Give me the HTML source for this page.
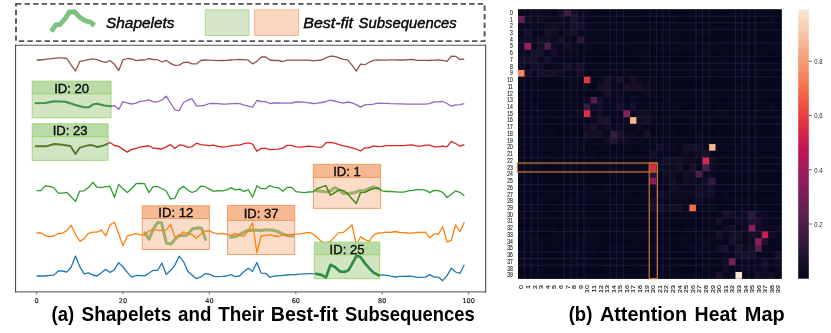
<!DOCTYPE html>
<html><head><meta charset="utf-8"><title>Shapelets and Attention Heat Map</title>
<style>
html,body{margin:0;padding:0;background:#fff;}
body{width:831px;height:333px;overflow:hidden;}
svg{display:block;}
.leg{font-family:"Liberation Sans",sans-serif;font-style:italic;font-size:15.4px;fill:#0a0a0a;stroke:#0a0a0a;stroke-width:0.3px;filter:drop-shadow(0.5px 0.6px 0.5px rgba(0,0,0,0.4));}
.id{font-family:"Liberation Sans",sans-serif;font-size:13.1px;fill:#111;stroke:#111;stroke-width:0.28px;filter:drop-shadow(0.4px 0.5px 0.4px rgba(0,0,0,0.35));}
.tk{font-family:"DejaVu Sans",sans-serif;font-size:6.5px;fill:#000;stroke:#000;stroke-width:0.12px;}
.ttl{font-family:"Liberation Sans",sans-serif;font-weight:bold;font-size:19.3px;fill:#000;}
.hy{font-family:"Liberation Sans",sans-serif;font-size:7.2px;fill:#1e1e1e;stroke:#1e1e1e;stroke-width:0.15px;}
.hx{font-family:"Liberation Sans",sans-serif;font-size:7px;fill:#1e1e1e;stroke:#1e1e1e;stroke-width:0.15px;}
.cbt{font-family:"Liberation Sans",sans-serif;font-size:7.7px;fill:#262626;}
</style></head><body>
<svg width="831" height="333" viewBox="0 0 831 333">
<rect x="0" y="0" width="831" height="333" fill="#ffffff"/>
<rect x="16" y="3.9" width="468.6" height="37.2" fill="none" stroke="#555555" stroke-width="1.9" stroke-dasharray="5.4 3.15"/>
<polyline points="51.3,31.5 55.8,24.8 59.6,24.8 65.6,18.0 69.3,12.0 74.6,11.7 79.8,17.3 85.8,21.0 90.4,22.2 94.4,25.5" fill="none" stroke="#7fc27e" stroke-width="4.9" stroke-linejoin="round" stroke-linecap="butt"/>
<text y="28.4" class="leg"><tspan x="106" textLength="68.6" lengthAdjust="spacingAndGlyphs">Shapelets</tspan></text>
<rect x="205.2" y="9.8" width="43.8" height="25.6" fill="#d5e6c8" stroke="#a9d88a" stroke-width="0.9"/>
<rect x="254.6" y="9.8" width="44" height="25.6" fill="#fad7c0" stroke="#f4b183" stroke-width="0.9"/>
<text y="28.4" class="leg"><tspan x="303.2" textLength="49.9" lengthAdjust="spacingAndGlyphs">Best-fit</tspan> <tspan x="358.6" textLength="98.2" lengthAdjust="spacingAndGlyphs">Subsequences</tspan></text>
<line x1="15.2" y1="45.3" x2="486.1" y2="45.3" stroke="#505050" stroke-width="1.1"/>
<line x1="15.2" y1="291.9" x2="486.1" y2="291.9" stroke="#6e6e6e" stroke-width="1.1"/>
<line x1="15.6" y1="44.8" x2="15.6" y2="292.4" stroke="#1c1c1c" stroke-width="0.85"/>
<line x1="485.7" y1="44.8" x2="485.7" y2="292.4" stroke="#1c1c1c" stroke-width="0.85"/>
<line x1="36.6" y1="292" x2="36.6" y2="294.3" stroke="#555" stroke-width="0.8"/>
<text x="36.6" y="303.1" class="tk" text-anchor="middle">0</text>
<line x1="123.0" y1="292" x2="123.0" y2="294.3" stroke="#555" stroke-width="0.8"/>
<text x="123.0" y="303.1" class="tk" text-anchor="middle">20</text>
<line x1="209.4" y1="292" x2="209.4" y2="294.3" stroke="#555" stroke-width="0.8"/>
<text x="209.4" y="303.1" class="tk" text-anchor="middle">40</text>
<line x1="295.8" y1="292" x2="295.8" y2="294.3" stroke="#555" stroke-width="0.8"/>
<text x="295.8" y="303.1" class="tk" text-anchor="middle">60</text>
<line x1="382.2" y1="292" x2="382.2" y2="294.3" stroke="#555" stroke-width="0.8"/>
<text x="382.2" y="303.1" class="tk" text-anchor="middle">80</text>
<line x1="468.6" y1="292" x2="468.6" y2="294.3" stroke="#555" stroke-width="0.8"/>
<text x="468.6" y="303.1" class="tk" text-anchor="middle">100</text>
<polyline points="36.6,60.0 40.9,60.0 45.2,59.3 53.9,58.3 58.2,57.8 62.5,57.8 66.8,58.5 71.2,65.1 75.5,71.0 79.8,61.4 84.1,60.7 88.4,59.7 92.8,58.8 97.1,59.7 101.4,61.4 105.7,62.4 110.0,60.5 114.4,64.2 118.7,70.6 123.0,59.8 127.3,58.5 131.6,58.8 136.0,60.7 140.3,60.0 144.6,60.0 148.9,58.7 153.2,59.5 157.6,59.7 161.9,62.0 166.2,60.3 170.5,63.4 174.8,65.4 179.2,65.1 183.5,62.5 187.8,62.2 192.1,63.9 196.4,63.9 200.8,60.5 205.1,60.0 209.4,60.2 213.7,60.3 218.0,60.7 222.4,60.5 226.7,60.3 231.0,60.0 235.3,59.7 239.6,59.3 244.0,59.7 248.3,60.2 252.6,63.9 256.9,61.4 261.2,57.0 265.6,57.0 269.9,60.0 274.2,60.5 278.5,60.5 282.8,61.5 287.2,60.2 291.5,60.2 295.8,60.2 300.1,60.2 304.4,60.2 308.8,60.2 313.1,60.8 317.4,60.3 321.7,60.0 326.0,57.8 330.4,56.1 334.7,56.3 339.0,57.8 343.3,59.3 347.6,59.8 352.0,65.1 356.3,71.1 360.6,64.2 364.9,64.7 369.2,62.2 373.6,60.3 377.9,59.8 382.2,60.1 386.5,60.2 390.8,59.9 395.2,59.9 399.5,60.0 403.8,60.0 408.1,59.6 412.4,59.3 416.8,60.3 421.1,60.3 425.4,60.3 429.7,60.5 434.0,60.2 438.4,60.0 442.7,60.3 447.0,61.4 451.3,56.1 455.6,56.3 460.0,59.5 464.3,59.2" fill="none" stroke="#8c564b" stroke-width="1.3" stroke-linejoin="round"/>
<polyline points="36.6,103.3 45.2,103.1 53.9,101.3 66.8,101.8 75.5,105.0 84.1,107.3 88.4,107.3 92.8,104.3 97.1,103.8 105.7,105.5 110.0,106.3 114.4,105.5 118.7,109.4 123.0,101.6 127.3,103.0 131.6,104.0 136.0,103.1 140.3,101.3 144.6,100.9 148.9,99.8 153.2,101.8 157.6,101.8 161.9,100.0 166.2,96.2 170.5,103.0 174.8,109.8 179.2,110.6 183.5,102.5 187.8,100.2 192.1,98.8 196.4,105.9 200.8,105.9 205.1,105.2 209.4,103.5 213.7,103.5 218.0,103.7 222.4,104.2 226.7,104.2 231.0,103.7 235.3,103.4 239.6,103.7 244.0,105.1 248.3,106.1 252.6,107.2 256.9,100.5 261.2,101.5 265.6,101.7 269.9,103.5 274.2,103.0 278.5,103.0 282.8,103.2 287.2,103.2 291.5,103.0 295.8,102.0 300.1,102.0 304.4,102.2 308.8,102.9 313.1,103.5 317.4,103.2 321.7,102.5 326.0,101.5 330.4,100.2 334.7,101.0 339.0,102.2 343.3,103.2 347.6,102.0 352.0,102.9 356.3,104.6 360.6,107.1 364.9,104.9 369.2,104.6 373.6,104.2 377.9,103.2 382.2,103.4 386.5,103.4 390.8,103.6 399.5,103.8 408.1,104.1 416.8,104.1 425.4,104.1 429.7,103.7 434.0,101.9 438.4,101.9 442.7,101.5 447.0,103.5 451.3,106.2 455.6,104.9 460.0,104.6 464.3,103.7" fill="none" stroke="#9467bd" stroke-width="1.3" stroke-linejoin="round"/>
<rect x="32.2" y="93.7" width="78.8" height="24.0" fill="#d1e5c3" fill-opacity="1.00" stroke="#9fd672" stroke-width="0.95"/>
<rect x="32.2" y="81.1" width="78.8" height="12.6" fill="#b3d69e" fill-opacity="0.90" stroke="#9fd672" stroke-width="0.95"/>
<text x="71.6" y="92.7" class="id" text-anchor="middle">ID: 20</text>
<polyline points="35.6,103.3 45.2,103.1 54.4,101.3 65.4,101.8 75.5,105.0 83.9,107.3 88.6,107.3 93.2,104.3 97.4,103.8 104.1,105.5 111.0,106.3" fill="none" stroke="#3d9148" stroke-width="2.0" stroke-linejoin="round" stroke-linecap="round"/>
<polyline points="36.6,146.2 45.2,146.2 53.9,144.0 62.5,144.8 71.2,146.0 75.5,154.1 79.8,147.7 88.4,145.3 92.8,145.3 97.1,147.0 105.7,145.3 110.0,142.5 114.4,145.5 118.7,146.3 123.0,149.4 127.3,152.1 131.6,149.4 136.0,148.5 140.3,146.9 144.6,146.5 148.9,145.7 153.2,148.2 157.6,148.5 161.9,149.0 166.2,146.8 170.5,144.7 174.8,148.6 179.2,144.9 183.5,145.4 187.8,147.4 192.1,146.7 196.4,143.2 200.8,144.7 205.1,145.1 209.4,145.6 213.7,145.2 218.0,146.4 222.4,147.1 226.7,146.6 231.0,145.9 235.3,145.2 239.6,145.1 244.0,143.7 248.3,142.9 252.6,144.2 256.9,151.3 261.2,148.4 265.6,148.4 269.9,149.6 274.2,149.3 278.5,149.1 282.8,148.1 287.2,145.4 291.5,145.4 295.8,146.8 300.1,147.1 304.4,146.6 308.8,146.1 313.1,146.6 317.4,147.2 321.7,147.4 326.0,142.7 330.4,142.4 334.7,143.2 339.0,144.6 343.3,145.9 347.6,146.7 352.0,147.8 356.3,149.1 360.6,151.0 364.9,147.8 369.2,147.8 373.6,145.9 377.9,146.6 382.2,146.4 386.5,145.6 395.2,145.6 403.8,145.6 408.1,145.2 412.4,144.9 416.8,146.1 421.1,146.1 425.4,145.2 429.7,145.1 434.0,146.9 438.4,146.9 442.7,146.2 447.0,146.9 451.3,141.4 455.6,143.5 460.0,146.2 464.3,144.7" fill="none" stroke="#d62728" stroke-width="1.3" stroke-linejoin="round"/>
<rect x="32.2" y="136.6" width="75.8" height="23.7" fill="#d1e5c3" fill-opacity="1.00" stroke="#9fd672" stroke-width="0.95"/>
<rect x="32.2" y="123.8" width="75.8" height="12.8" fill="#b3d69e" fill-opacity="0.90" stroke="#9fd672" stroke-width="0.95"/>
<text x="70.1" y="135.4" class="id" text-anchor="middle">ID: 23</text>
<polyline points="35.6,146.2 46.8,146.2 54.4,144.0 62.0,144.8 70.4,146.0 75.5,154.1 79.7,147.7 88.1,145.3 92.7,145.3 97.4,147.0 104.1,145.3 108.0,143.5" fill="none" stroke="#58782c" stroke-width="1.9" stroke-linejoin="round" stroke-linecap="round"/>
<rect x="313.4" y="177.3" width="67.2" height="31.0" fill="#fbd8c2" fill-opacity="0.90" stroke="#ec9a62" stroke-width="0.95"/>
<rect x="313.4" y="164.3" width="67.2" height="13.0" fill="#f6b68d" fill-opacity="0.96" stroke="#ec9a62" stroke-width="0.95"/>
<text x="347.0" y="175.9" class="id" text-anchor="middle">ID: 1</text>
<polyline points="316.7,190.6 326.0,192.0 330.4,191.0 334.7,187.5 339.0,189.9 343.3,193.5 347.7,193.5 353.1,192.9 360.6,190.6 365.0,190.2 369.3,188.4 373.6,187.0 378.3,188.4" fill="none" stroke="#82a050" stroke-opacity="0.75" stroke-width="3.1" stroke-linejoin="round" stroke-linecap="round"/>
<polyline points="36.6,190.6 40.9,190.6 45.2,185.9 49.6,186.4 53.9,187.9 58.2,193.1 62.5,193.1 66.8,192.3 71.2,197.0 75.5,201.4 79.8,191.1 84.1,190.8 88.4,187.6 92.8,182.3 97.1,187.2 101.4,187.6 105.7,186.6 110.0,186.4 114.4,197.2 118.7,184.4 123.0,188.7 127.3,192.6 131.6,188.7 136.0,183.7 140.3,183.5 144.6,183.7 148.9,192.6 153.2,186.7 157.6,186.6 161.9,188.5 166.2,191.0 170.5,198.9 174.8,198.3 179.2,189.1 183.5,186.4 187.8,190.1 192.1,192.5 196.4,190.8 200.8,186.2 205.1,186.7 209.4,189.1 213.7,191.3 218.0,190.6 222.4,190.8 226.7,189.9 231.0,187.7 235.3,189.9 239.6,189.2 244.0,191.3 248.3,189.8 252.6,197.3 256.9,185.7 261.2,188.7 265.6,188.7 269.9,185.5 274.2,187.4 278.5,187.7 282.8,191.3 287.2,187.4 291.5,187.3 295.8,191.6 300.1,192.2 304.4,192.6 308.8,192.0 313.1,191.9 317.4,188.4 321.7,187.0 326.0,185.7 330.4,195.3 334.7,192.6 339.0,189.9 343.3,190.6 347.6,193.8 352.0,198.9 356.3,203.6 360.6,192.6 364.9,192.4 369.2,190.2 373.6,188.6 377.9,188.1 382.2,190.9 386.5,191.5 390.8,191.5 395.2,191.8 399.5,192.1 403.8,192.1 408.1,190.8 412.4,190.4 416.8,189.7 421.1,189.7 425.4,190.1 429.7,192.6 434.0,190.4 438.4,190.6 442.7,192.3 447.0,197.5 451.3,194.3 455.6,190.9 460.0,192.3 464.3,195.8" fill="none" stroke="#2ca02c" stroke-width="1.3" stroke-linejoin="round"/>
<clipPath id="c1"><rect x="313.9" y="177.3" width="66.2" height="31"/></clipPath>
<polyline clip-path="url(#c1)" points="36.6,190.6 40.9,190.6 45.2,185.9 49.6,186.4 53.9,187.9 58.2,193.1 62.5,193.1 66.8,192.3 71.2,197.0 75.5,201.4 79.8,191.1 84.1,190.8 88.4,187.6 92.8,182.3 97.1,187.2 101.4,187.6 105.7,186.6 110.0,186.4 114.4,197.2 118.7,184.4 123.0,188.7 127.3,192.6 131.6,188.7 136.0,183.7 140.3,183.5 144.6,183.7 148.9,192.6 153.2,186.7 157.6,186.6 161.9,188.5 166.2,191.0 170.5,198.9 174.8,198.3 179.2,189.1 183.5,186.4 187.8,190.1 192.1,192.5 196.4,190.8 200.8,186.2 205.1,186.7 209.4,189.1 213.7,191.3 218.0,190.6 222.4,190.8 226.7,189.9 231.0,187.7 235.3,189.9 239.6,189.2 244.0,191.3 248.3,189.8 252.6,197.3 256.9,185.7 261.2,188.7 265.6,188.7 269.9,185.5 274.2,187.4 278.5,187.7 282.8,191.3 287.2,187.4 291.5,187.3 295.8,191.6 300.1,192.2 304.4,192.6 308.8,192.0 313.1,191.9 317.4,188.4 321.7,187.0 326.0,185.7 330.4,195.3 334.7,192.6 339.0,189.9 343.3,190.6 347.6,193.8 352.0,198.9 356.3,203.6 360.6,192.6 364.9,192.4 369.2,190.2 373.6,188.6 377.9,188.1 382.2,190.9 386.5,191.5 390.8,191.5 395.2,191.8 399.5,192.1 403.8,192.1 408.1,190.8 412.4,190.4 416.8,189.7 421.1,189.7 425.4,190.1 429.7,192.6 434.0,190.4 438.4,190.6 442.7,192.3 447.0,197.5 451.3,194.3 455.6,190.9 460.0,192.3 464.3,195.8" fill="none" stroke="#4f8a26" stroke-width="1.3" stroke-linejoin="round"/>
<rect x="142.2" y="218.4" width="67.1" height="31.1" fill="#fbd8c2" fill-opacity="0.90" stroke="#ec9a62" stroke-width="0.95"/>
<rect x="142.2" y="205.8" width="67.1" height="12.6" fill="#f6b68d" fill-opacity="0.96" stroke="#ec9a62" stroke-width="0.95"/>
<text x="175.8" y="217.4" class="id" text-anchor="middle">ID: 12</text>
<rect x="227.6" y="220.3" width="67.1" height="34.2" fill="#fbd8c2" fill-opacity="0.90" stroke="#ec9a62" stroke-width="0.95"/>
<rect x="227.6" y="205.4" width="67.1" height="14.9" fill="#f6b68d" fill-opacity="0.96" stroke="#ec9a62" stroke-width="0.95"/>
<text x="261.1" y="217.6" class="id" text-anchor="middle">ID: 37</text>
<polyline points="144.9,232.9 149.0,239.2 153.4,228.8 157.5,222.5 161.6,222.9 163.8,232.4 166.5,243.2 171.0,244.1 175.5,238.7 179.1,235.6 187.2,235.1 192.6,228.8 197.1,227.9 201.6,228.4 205.6,239.6" fill="none" stroke="#82a050" stroke-opacity="0.75" stroke-width="3.1" stroke-linejoin="round" stroke-linecap="round"/>
<polyline points="230.4,237.3 236.2,236.4 241.6,233.3 247.0,230.6 252.4,230.2 256.9,230.2 261.4,230.6 265.9,229.7 272.2,230.1 277.6,231.5 283.0,234.2 287.5,235.6 292.9,236.0" fill="none" stroke="#82a050" stroke-opacity="0.75" stroke-width="3.1" stroke-linejoin="round" stroke-linecap="round"/>
<polyline points="36.6,233.0 40.9,233.0 45.2,235.5 49.6,236.6 53.9,236.0 58.2,233.5 62.5,233.3 66.8,230.6 71.2,225.2 75.5,234.6 79.8,241.1 84.1,238.9 88.4,233.3 92.8,232.1 97.1,232.1 101.4,230.1 105.7,235.9 110.0,224.9 114.4,222.3 118.7,233.9 123.0,245.8 127.3,235.9 131.6,234.8 136.0,233.3 140.3,234.8 144.6,234.9 148.9,231.0 153.2,229.7 157.6,230.1 161.9,230.6 166.2,230.1 170.5,224.3 174.8,236.9 179.2,235.8 183.5,232.0 187.8,233.3 192.1,234.7 196.4,238.2 200.8,234.2 205.1,231.0 209.4,231.0 213.7,232.8 218.0,233.8 222.4,233.3 226.7,234.2 231.0,235.3 235.3,233.3 239.6,235.6 244.0,236.0 248.3,230.6 252.6,223.0 256.9,252.6 261.2,236.0 265.6,235.3 269.9,234.7 274.2,236.0 278.5,236.5 282.8,234.6 287.2,235.3 291.5,234.7 295.8,234.2 300.1,233.9 304.4,233.2 308.8,232.4 313.1,233.9 317.4,237.8 321.7,241.8 326.0,242.9 330.4,241.4 334.7,236.9 339.0,232.6 343.3,232.4 347.6,228.8 352.0,224.9 356.3,245.0 360.6,236.8 364.9,239.6 369.2,241.4 373.6,235.1 377.9,233.0 382.2,232.8 386.5,232.1 390.8,232.4 395.2,231.5 399.5,232.5 403.8,232.6 408.1,233.0 412.4,233.2 416.8,232.5 421.1,232.4 425.4,232.1 429.7,237.8 434.0,234.2 438.4,234.2 442.7,226.7 447.0,241.8 451.3,240.4 455.6,225.0 460.0,231.5 464.3,222.3" fill="none" stroke="#ff7f0e" stroke-width="1.3" stroke-linejoin="round"/>
<polyline points="36.6,276.0 40.9,276.0 45.2,276.0 49.6,275.3 53.9,275.1 58.2,271.0 62.5,271.0 66.8,272.1 71.2,267.0 75.5,255.9 79.8,266.7 84.1,273.9 88.4,272.8 92.8,275.0 97.1,276.0 101.4,272.8 105.7,269.2 110.0,272.4 114.4,269.7 118.7,262.7 123.0,267.0 127.3,272.4 131.6,277.1 136.0,275.5 140.3,275.7 144.6,275.9 148.9,273.2 153.2,270.3 157.6,270.3 161.9,263.1 166.2,274.6 170.5,270.6 174.8,265.2 179.2,256.2 183.5,261.6 187.8,271.5 192.1,275.1 196.4,278.7 200.8,276.9 205.1,273.7 209.4,274.2 213.7,276.4 218.0,276.6 222.4,276.4 226.7,276.0 231.0,274.6 235.3,276.6 239.6,276.0 244.0,271.5 248.3,268.3 252.6,271.5 256.9,262.5 261.2,273.2 265.6,273.3 269.9,277.3 274.2,276.0 278.5,275.9 282.8,275.3 287.2,275.0 291.5,274.7 295.8,274.5 300.1,274.2 304.4,273.8 308.8,273.7 313.1,273.7 316.1,273.8 321.5,274.9 326.0,277.4 330.5,264.8 335.0,267.0 339.5,271.3 344.1,272.0 348.6,270.2 353.1,262.1 356.7,255.5 360.6,257.3 365.0,263.4 369.3,268.4 373.6,272.6 378.6,275.3 382.2,274.9 386.5,275.3 390.8,276.2 395.2,277.0 399.5,276.4 403.8,276.3 408.1,276.1 412.4,276.4 416.8,277.3 421.1,277.3 425.4,277.1 429.7,274.6 434.0,277.1 438.4,277.1 442.7,280.7 447.0,275.6 451.3,268.3 455.6,272.0 460.0,273.3 464.3,264.8" fill="none" stroke="#1f77b4" stroke-width="1.3" stroke-linejoin="round"/>
<rect x="314.3" y="254.6" width="65.4" height="24.1" fill="#d1e5c3" fill-opacity="1.00" stroke="#9fd672" stroke-width="0.95"/>
<rect x="314.3" y="242.1" width="65.4" height="12.5" fill="#b3d69e" fill-opacity="0.90" stroke="#9fd672" stroke-width="0.95"/>
<text x="347.0" y="253.7" class="id" text-anchor="middle">ID: 25</text>
<polyline points="316.1,273.8 321.5,274.9 326.0,277.4 330.5,264.8 335.0,267.0 339.5,271.3 344.1,272.0 348.6,270.2 353.1,262.1 356.7,255.5 360.6,257.3 365.0,263.4 369.3,268.4 373.6,272.6 378.6,275.3" fill="none" stroke="#2f8c45" stroke-width="2.7" stroke-linejoin="round" stroke-linecap="round"/>
<text y="321.2" class="ttl"><tspan x="51.6" textLength="22.7" lengthAdjust="spacingAndGlyphs">(a)</tspan> <tspan x="81.5" textLength="89.7" lengthAdjust="spacingAndGlyphs">Shapelets</tspan> <tspan x="178.1" textLength="33.2" lengthAdjust="spacingAndGlyphs">and</tspan> <tspan x="218.2" textLength="46.2" lengthAdjust="spacingAndGlyphs">Their</tspan> <tspan x="270.8" textLength="67.2" lengthAdjust="spacingAndGlyphs">Best-fit</tspan> <tspan x="344.9" textLength="129.8" lengthAdjust="spacingAndGlyphs">Subsequences</tspan></text>
<text y="321.4" class="ttl"><tspan x="568.7" textLength="23.6" lengthAdjust="spacingAndGlyphs">(b)</tspan> <tspan x="599.9" textLength="87.2" lengthAdjust="spacingAndGlyphs">Attention</tspan> <tspan x="694.6" textLength="42.2" lengthAdjust="spacingAndGlyphs">Heat</tspan> <tspan x="744.8" textLength="39.9" lengthAdjust="spacingAndGlyphs">Map</tspan></text>
<rect x="518.0" y="9.4" width="263.6" height="269.3" fill="#07071e"/>
<rect x="518.00" y="9.40" width="6.64" height="6.78" fill="#07071d"/>
<rect x="524.59" y="9.40" width="6.64" height="6.78" fill="#08081e"/>
<rect x="531.18" y="9.40" width="6.64" height="6.78" fill="#0a091f"/>
<rect x="537.77" y="9.40" width="6.64" height="6.78" fill="#0a091f"/>
<rect x="544.36" y="9.40" width="6.64" height="6.78" fill="#08081e"/>
<rect x="550.95" y="9.40" width="6.64" height="6.78" fill="#06071c"/>
<rect x="557.54" y="9.40" width="6.64" height="6.78" fill="#160e27"/>
<rect x="564.13" y="9.40" width="6.64" height="6.78" fill="#381a40"/>
<rect x="570.72" y="9.40" width="6.64" height="6.78" fill="#1a102a"/>
<rect x="577.31" y="9.40" width="6.64" height="6.78" fill="#0b0920"/>
<rect x="583.90" y="9.40" width="6.64" height="6.78" fill="#0a091f"/>
<rect x="590.49" y="9.40" width="6.64" height="6.78" fill="#06071c"/>
<rect x="597.08" y="9.40" width="6.64" height="6.78" fill="#08081e"/>
<rect x="603.67" y="9.40" width="6.64" height="6.78" fill="#06071c"/>
<rect x="610.26" y="9.40" width="6.64" height="6.78" fill="#06071c"/>
<rect x="616.85" y="9.40" width="6.64" height="6.78" fill="#06071c"/>
<rect x="623.44" y="9.40" width="6.64" height="6.78" fill="#07071d"/>
<rect x="630.03" y="9.40" width="6.64" height="6.78" fill="#08081e"/>
<rect x="636.62" y="9.40" width="6.64" height="6.78" fill="#06071c"/>
<rect x="643.21" y="9.40" width="6.64" height="6.78" fill="#07071d"/>
<rect x="649.80" y="9.40" width="6.64" height="6.78" fill="#08081e"/>
<rect x="656.39" y="9.40" width="6.64" height="6.78" fill="#07071d"/>
<rect x="662.98" y="9.40" width="6.64" height="6.78" fill="#07071d"/>
<rect x="669.57" y="9.40" width="6.64" height="6.78" fill="#06071c"/>
<rect x="676.16" y="9.40" width="6.64" height="6.78" fill="#06071c"/>
<rect x="682.75" y="9.40" width="6.64" height="6.78" fill="#06071c"/>
<rect x="689.34" y="9.40" width="6.64" height="6.78" fill="#08081e"/>
<rect x="695.93" y="9.40" width="6.64" height="6.78" fill="#07071d"/>
<rect x="702.52" y="9.40" width="6.64" height="6.78" fill="#07071d"/>
<rect x="709.11" y="9.40" width="6.64" height="6.78" fill="#07071d"/>
<rect x="715.70" y="9.40" width="6.64" height="6.78" fill="#07071d"/>
<rect x="722.29" y="9.40" width="6.64" height="6.78" fill="#06071c"/>
<rect x="728.88" y="9.40" width="6.64" height="6.78" fill="#08081e"/>
<rect x="735.47" y="9.40" width="6.64" height="6.78" fill="#08081e"/>
<rect x="742.06" y="9.40" width="6.64" height="6.78" fill="#06071c"/>
<rect x="748.65" y="9.40" width="6.64" height="6.78" fill="#07071d"/>
<rect x="755.24" y="9.40" width="6.64" height="6.78" fill="#07071d"/>
<rect x="761.83" y="9.40" width="6.64" height="6.78" fill="#08081e"/>
<rect x="768.42" y="9.40" width="6.64" height="6.78" fill="#08081e"/>
<rect x="775.01" y="9.40" width="6.64" height="6.78" fill="#06071c"/>
<rect x="518.00" y="16.13" width="6.64" height="6.78" fill="#691f55"/>
<rect x="524.59" y="16.13" width="6.64" height="6.78" fill="#130d25"/>
<rect x="531.18" y="16.13" width="6.64" height="6.78" fill="#0a091f"/>
<rect x="537.77" y="16.13" width="6.64" height="6.78" fill="#0e0b22"/>
<rect x="544.36" y="16.13" width="6.64" height="6.78" fill="#100b23"/>
<rect x="550.95" y="16.13" width="6.64" height="6.78" fill="#0b0920"/>
<rect x="557.54" y="16.13" width="6.64" height="6.78" fill="#100b23"/>
<rect x="564.13" y="16.13" width="6.64" height="6.78" fill="#0b0920"/>
<rect x="570.72" y="16.13" width="6.64" height="6.78" fill="#1b112b"/>
<rect x="577.31" y="16.13" width="6.64" height="6.78" fill="#100b23"/>
<rect x="583.90" y="16.13" width="6.64" height="6.78" fill="#06071c"/>
<rect x="590.49" y="16.13" width="6.64" height="6.78" fill="#08081e"/>
<rect x="597.08" y="16.13" width="6.64" height="6.78" fill="#08081e"/>
<rect x="603.67" y="16.13" width="6.64" height="6.78" fill="#0a091f"/>
<rect x="610.26" y="16.13" width="6.64" height="6.78" fill="#08081e"/>
<rect x="616.85" y="16.13" width="6.64" height="6.78" fill="#06071c"/>
<rect x="623.44" y="16.13" width="6.64" height="6.78" fill="#07071d"/>
<rect x="630.03" y="16.13" width="6.64" height="6.78" fill="#08081e"/>
<rect x="636.62" y="16.13" width="6.64" height="6.78" fill="#06071c"/>
<rect x="643.21" y="16.13" width="6.64" height="6.78" fill="#07071d"/>
<rect x="649.80" y="16.13" width="6.64" height="6.78" fill="#06071c"/>
<rect x="656.39" y="16.13" width="6.64" height="6.78" fill="#06071c"/>
<rect x="662.98" y="16.13" width="6.64" height="6.78" fill="#06071c"/>
<rect x="669.57" y="16.13" width="6.64" height="6.78" fill="#08081e"/>
<rect x="676.16" y="16.13" width="6.64" height="6.78" fill="#06071c"/>
<rect x="682.75" y="16.13" width="6.64" height="6.78" fill="#06071c"/>
<rect x="689.34" y="16.13" width="6.64" height="6.78" fill="#07071d"/>
<rect x="695.93" y="16.13" width="6.64" height="6.78" fill="#08081e"/>
<rect x="702.52" y="16.13" width="6.64" height="6.78" fill="#06071c"/>
<rect x="709.11" y="16.13" width="6.64" height="6.78" fill="#07071d"/>
<rect x="715.70" y="16.13" width="6.64" height="6.78" fill="#07071d"/>
<rect x="722.29" y="16.13" width="6.64" height="6.78" fill="#08081e"/>
<rect x="728.88" y="16.13" width="6.64" height="6.78" fill="#08081e"/>
<rect x="735.47" y="16.13" width="6.64" height="6.78" fill="#08081e"/>
<rect x="742.06" y="16.13" width="6.64" height="6.78" fill="#06071c"/>
<rect x="748.65" y="16.13" width="6.64" height="6.78" fill="#07071d"/>
<rect x="755.24" y="16.13" width="6.64" height="6.78" fill="#07071d"/>
<rect x="761.83" y="16.13" width="6.64" height="6.78" fill="#08081e"/>
<rect x="768.42" y="16.13" width="6.64" height="6.78" fill="#0a091f"/>
<rect x="775.01" y="16.13" width="6.64" height="6.78" fill="#06071c"/>
<rect x="518.00" y="22.87" width="6.64" height="6.78" fill="#07071d"/>
<rect x="524.59" y="22.87" width="6.64" height="6.78" fill="#0b0920"/>
<rect x="531.18" y="22.87" width="6.64" height="6.78" fill="#08081e"/>
<rect x="537.77" y="22.87" width="6.64" height="6.78" fill="#08081e"/>
<rect x="544.36" y="22.87" width="6.64" height="6.78" fill="#0d0a21"/>
<rect x="550.95" y="22.87" width="6.64" height="6.78" fill="#130d25"/>
<rect x="557.54" y="22.87" width="6.64" height="6.78" fill="#100b23"/>
<rect x="564.13" y="22.87" width="6.64" height="6.78" fill="#08081e"/>
<rect x="570.72" y="22.87" width="6.64" height="6.78" fill="#160e27"/>
<rect x="577.31" y="22.87" width="6.64" height="6.78" fill="#160e27"/>
<rect x="583.90" y="22.87" width="6.64" height="6.78" fill="#07071d"/>
<rect x="590.49" y="22.87" width="6.64" height="6.78" fill="#07071d"/>
<rect x="597.08" y="22.87" width="6.64" height="6.78" fill="#06071c"/>
<rect x="603.67" y="22.87" width="6.64" height="6.78" fill="#08081e"/>
<rect x="610.26" y="22.87" width="6.64" height="6.78" fill="#06071c"/>
<rect x="616.85" y="22.87" width="6.64" height="6.78" fill="#06071c"/>
<rect x="623.44" y="22.87" width="6.64" height="6.78" fill="#06071c"/>
<rect x="630.03" y="22.87" width="6.64" height="6.78" fill="#06071c"/>
<rect x="636.62" y="22.87" width="6.64" height="6.78" fill="#07071d"/>
<rect x="643.21" y="22.87" width="6.64" height="6.78" fill="#06071c"/>
<rect x="649.80" y="22.87" width="6.64" height="6.78" fill="#06071c"/>
<rect x="656.39" y="22.87" width="6.64" height="6.78" fill="#06071c"/>
<rect x="662.98" y="22.87" width="6.64" height="6.78" fill="#06071c"/>
<rect x="669.57" y="22.87" width="6.64" height="6.78" fill="#07071d"/>
<rect x="676.16" y="22.87" width="6.64" height="6.78" fill="#06071c"/>
<rect x="682.75" y="22.87" width="6.64" height="6.78" fill="#08081e"/>
<rect x="689.34" y="22.87" width="6.64" height="6.78" fill="#07071d"/>
<rect x="695.93" y="22.87" width="6.64" height="6.78" fill="#06071c"/>
<rect x="702.52" y="22.87" width="6.64" height="6.78" fill="#06071c"/>
<rect x="709.11" y="22.87" width="6.64" height="6.78" fill="#07071d"/>
<rect x="715.70" y="22.87" width="6.64" height="6.78" fill="#07071d"/>
<rect x="722.29" y="22.87" width="6.64" height="6.78" fill="#06071c"/>
<rect x="728.88" y="22.87" width="6.64" height="6.78" fill="#08081e"/>
<rect x="735.47" y="22.87" width="6.64" height="6.78" fill="#0a091f"/>
<rect x="742.06" y="22.87" width="6.64" height="6.78" fill="#07071d"/>
<rect x="748.65" y="22.87" width="6.64" height="6.78" fill="#07071d"/>
<rect x="755.24" y="22.87" width="6.64" height="6.78" fill="#06071c"/>
<rect x="761.83" y="22.87" width="6.64" height="6.78" fill="#06071c"/>
<rect x="768.42" y="22.87" width="6.64" height="6.78" fill="#07071d"/>
<rect x="775.01" y="22.87" width="6.64" height="6.78" fill="#06071c"/>
<rect x="518.00" y="29.60" width="6.64" height="6.78" fill="#08081e"/>
<rect x="524.59" y="29.60" width="6.64" height="6.78" fill="#170f28"/>
<rect x="531.18" y="29.60" width="6.64" height="6.78" fill="#07071d"/>
<rect x="537.77" y="29.60" width="6.64" height="6.78" fill="#07071d"/>
<rect x="544.36" y="29.60" width="6.64" height="6.78" fill="#1b112b"/>
<rect x="550.95" y="29.60" width="6.64" height="6.78" fill="#130d25"/>
<rect x="557.54" y="29.60" width="6.64" height="6.78" fill="#08081e"/>
<rect x="564.13" y="29.60" width="6.64" height="6.78" fill="#110c24"/>
<rect x="570.72" y="29.60" width="6.64" height="6.78" fill="#140e26"/>
<rect x="577.31" y="29.60" width="6.64" height="6.78" fill="#07071d"/>
<rect x="583.90" y="29.60" width="6.64" height="6.78" fill="#08081e"/>
<rect x="590.49" y="29.60" width="6.64" height="6.78" fill="#0a091f"/>
<rect x="597.08" y="29.60" width="6.64" height="6.78" fill="#08081e"/>
<rect x="603.67" y="29.60" width="6.64" height="6.78" fill="#08081e"/>
<rect x="610.26" y="29.60" width="6.64" height="6.78" fill="#08081e"/>
<rect x="616.85" y="29.60" width="6.64" height="6.78" fill="#08081e"/>
<rect x="623.44" y="29.60" width="6.64" height="6.78" fill="#06071c"/>
<rect x="630.03" y="29.60" width="6.64" height="6.78" fill="#07071d"/>
<rect x="636.62" y="29.60" width="6.64" height="6.78" fill="#07071d"/>
<rect x="643.21" y="29.60" width="6.64" height="6.78" fill="#06071c"/>
<rect x="649.80" y="29.60" width="6.64" height="6.78" fill="#06071c"/>
<rect x="656.39" y="29.60" width="6.64" height="6.78" fill="#06071c"/>
<rect x="662.98" y="29.60" width="6.64" height="6.78" fill="#06071c"/>
<rect x="669.57" y="29.60" width="6.64" height="6.78" fill="#08081e"/>
<rect x="676.16" y="29.60" width="6.64" height="6.78" fill="#0a091f"/>
<rect x="682.75" y="29.60" width="6.64" height="6.78" fill="#07071d"/>
<rect x="689.34" y="29.60" width="6.64" height="6.78" fill="#08081e"/>
<rect x="695.93" y="29.60" width="6.64" height="6.78" fill="#0a091f"/>
<rect x="702.52" y="29.60" width="6.64" height="6.78" fill="#0a091f"/>
<rect x="709.11" y="29.60" width="6.64" height="6.78" fill="#07071d"/>
<rect x="715.70" y="29.60" width="6.64" height="6.78" fill="#06071c"/>
<rect x="722.29" y="29.60" width="6.64" height="6.78" fill="#06071c"/>
<rect x="728.88" y="29.60" width="6.64" height="6.78" fill="#06071c"/>
<rect x="735.47" y="29.60" width="6.64" height="6.78" fill="#06071c"/>
<rect x="742.06" y="29.60" width="6.64" height="6.78" fill="#07071d"/>
<rect x="748.65" y="29.60" width="6.64" height="6.78" fill="#08081e"/>
<rect x="755.24" y="29.60" width="6.64" height="6.78" fill="#08081e"/>
<rect x="761.83" y="29.60" width="6.64" height="6.78" fill="#07071d"/>
<rect x="768.42" y="29.60" width="6.64" height="6.78" fill="#08081e"/>
<rect x="775.01" y="29.60" width="6.64" height="6.78" fill="#08081e"/>
<rect x="518.00" y="36.33" width="6.64" height="6.78" fill="#0e0b22"/>
<rect x="524.59" y="36.33" width="6.64" height="6.78" fill="#160e27"/>
<rect x="531.18" y="36.33" width="6.64" height="6.78" fill="#0d0a21"/>
<rect x="537.77" y="36.33" width="6.64" height="6.78" fill="#130d25"/>
<rect x="544.36" y="36.33" width="6.64" height="6.78" fill="#140e26"/>
<rect x="550.95" y="36.33" width="6.64" height="6.78" fill="#0d0a21"/>
<rect x="557.54" y="36.33" width="6.64" height="6.78" fill="#180f29"/>
<rect x="564.13" y="36.33" width="6.64" height="6.78" fill="#08081e"/>
<rect x="570.72" y="36.33" width="6.64" height="6.78" fill="#06071c"/>
<rect x="577.31" y="36.33" width="6.64" height="6.78" fill="#2a1636"/>
<rect x="583.90" y="36.33" width="6.64" height="6.78" fill="#06071c"/>
<rect x="590.49" y="36.33" width="6.64" height="6.78" fill="#08081e"/>
<rect x="597.08" y="36.33" width="6.64" height="6.78" fill="#0a091f"/>
<rect x="603.67" y="36.33" width="6.64" height="6.78" fill="#08081e"/>
<rect x="610.26" y="36.33" width="6.64" height="6.78" fill="#07071d"/>
<rect x="616.85" y="36.33" width="6.64" height="6.78" fill="#07071d"/>
<rect x="623.44" y="36.33" width="6.64" height="6.78" fill="#06071c"/>
<rect x="630.03" y="36.33" width="6.64" height="6.78" fill="#06071c"/>
<rect x="636.62" y="36.33" width="6.64" height="6.78" fill="#0a091f"/>
<rect x="643.21" y="36.33" width="6.64" height="6.78" fill="#08081e"/>
<rect x="649.80" y="36.33" width="6.64" height="6.78" fill="#07071d"/>
<rect x="656.39" y="36.33" width="6.64" height="6.78" fill="#08081e"/>
<rect x="662.98" y="36.33" width="6.64" height="6.78" fill="#07071d"/>
<rect x="669.57" y="36.33" width="6.64" height="6.78" fill="#08081e"/>
<rect x="676.16" y="36.33" width="6.64" height="6.78" fill="#08081e"/>
<rect x="682.75" y="36.33" width="6.64" height="6.78" fill="#06071c"/>
<rect x="689.34" y="36.33" width="6.64" height="6.78" fill="#06071c"/>
<rect x="695.93" y="36.33" width="6.64" height="6.78" fill="#06071c"/>
<rect x="702.52" y="36.33" width="6.64" height="6.78" fill="#06071c"/>
<rect x="709.11" y="36.33" width="6.64" height="6.78" fill="#07071d"/>
<rect x="715.70" y="36.33" width="6.64" height="6.78" fill="#06071c"/>
<rect x="722.29" y="36.33" width="6.64" height="6.78" fill="#07071d"/>
<rect x="728.88" y="36.33" width="6.64" height="6.78" fill="#06071c"/>
<rect x="735.47" y="36.33" width="6.64" height="6.78" fill="#08081e"/>
<rect x="742.06" y="36.33" width="6.64" height="6.78" fill="#07071d"/>
<rect x="748.65" y="36.33" width="6.64" height="6.78" fill="#07071d"/>
<rect x="755.24" y="36.33" width="6.64" height="6.78" fill="#07071d"/>
<rect x="761.83" y="36.33" width="6.64" height="6.78" fill="#08081e"/>
<rect x="768.42" y="36.33" width="6.64" height="6.78" fill="#07071d"/>
<rect x="775.01" y="36.33" width="6.64" height="6.78" fill="#08081e"/>
<rect x="518.00" y="43.06" width="6.64" height="6.78" fill="#0d0a21"/>
<rect x="524.59" y="43.06" width="6.64" height="6.78" fill="#a4195b"/>
<rect x="531.18" y="43.06" width="6.64" height="6.78" fill="#07071d"/>
<rect x="537.77" y="43.06" width="6.64" height="6.78" fill="#130d25"/>
<rect x="544.36" y="43.06" width="6.64" height="6.78" fill="#4c1d4b"/>
<rect x="550.95" y="43.06" width="6.64" height="6.78" fill="#0e0b22"/>
<rect x="557.54" y="43.06" width="6.64" height="6.78" fill="#0b0920"/>
<rect x="564.13" y="43.06" width="6.64" height="6.78" fill="#140e26"/>
<rect x="570.72" y="43.06" width="6.64" height="6.78" fill="#0b0920"/>
<rect x="577.31" y="43.06" width="6.64" height="6.78" fill="#07071d"/>
<rect x="583.90" y="43.06" width="6.64" height="6.78" fill="#08081e"/>
<rect x="590.49" y="43.06" width="6.64" height="6.78" fill="#07071d"/>
<rect x="597.08" y="43.06" width="6.64" height="6.78" fill="#07071d"/>
<rect x="603.67" y="43.06" width="6.64" height="6.78" fill="#08081e"/>
<rect x="610.26" y="43.06" width="6.64" height="6.78" fill="#08081e"/>
<rect x="616.85" y="43.06" width="6.64" height="6.78" fill="#07071d"/>
<rect x="623.44" y="43.06" width="6.64" height="6.78" fill="#07071d"/>
<rect x="630.03" y="43.06" width="6.64" height="6.78" fill="#07071d"/>
<rect x="636.62" y="43.06" width="6.64" height="6.78" fill="#07071d"/>
<rect x="643.21" y="43.06" width="6.64" height="6.78" fill="#08081e"/>
<rect x="649.80" y="43.06" width="6.64" height="6.78" fill="#07071d"/>
<rect x="656.39" y="43.06" width="6.64" height="6.78" fill="#07071d"/>
<rect x="662.98" y="43.06" width="6.64" height="6.78" fill="#07071d"/>
<rect x="669.57" y="43.06" width="6.64" height="6.78" fill="#08081e"/>
<rect x="676.16" y="43.06" width="6.64" height="6.78" fill="#08081e"/>
<rect x="682.75" y="43.06" width="6.64" height="6.78" fill="#08081e"/>
<rect x="689.34" y="43.06" width="6.64" height="6.78" fill="#08081e"/>
<rect x="695.93" y="43.06" width="6.64" height="6.78" fill="#06071c"/>
<rect x="702.52" y="43.06" width="6.64" height="6.78" fill="#07071d"/>
<rect x="709.11" y="43.06" width="6.64" height="6.78" fill="#08081e"/>
<rect x="715.70" y="43.06" width="6.64" height="6.78" fill="#08081e"/>
<rect x="722.29" y="43.06" width="6.64" height="6.78" fill="#06071c"/>
<rect x="728.88" y="43.06" width="6.64" height="6.78" fill="#06071c"/>
<rect x="735.47" y="43.06" width="6.64" height="6.78" fill="#07071d"/>
<rect x="742.06" y="43.06" width="6.64" height="6.78" fill="#06071c"/>
<rect x="748.65" y="43.06" width="6.64" height="6.78" fill="#06071c"/>
<rect x="755.24" y="43.06" width="6.64" height="6.78" fill="#06071c"/>
<rect x="761.83" y="43.06" width="6.64" height="6.78" fill="#08081e"/>
<rect x="768.42" y="43.06" width="6.64" height="6.78" fill="#08081e"/>
<rect x="775.01" y="43.06" width="6.64" height="6.78" fill="#08081e"/>
<rect x="518.00" y="49.79" width="6.64" height="6.78" fill="#100b23"/>
<rect x="524.59" y="49.79" width="6.64" height="6.78" fill="#08081e"/>
<rect x="531.18" y="49.79" width="6.64" height="6.78" fill="#1b112b"/>
<rect x="537.77" y="49.79" width="6.64" height="6.78" fill="#180f29"/>
<rect x="544.36" y="49.79" width="6.64" height="6.78" fill="#0b0920"/>
<rect x="550.95" y="49.79" width="6.64" height="6.78" fill="#170f28"/>
<rect x="557.54" y="49.79" width="6.64" height="6.78" fill="#0a091f"/>
<rect x="564.13" y="49.79" width="6.64" height="6.78" fill="#0a091f"/>
<rect x="570.72" y="49.79" width="6.64" height="6.78" fill="#08081e"/>
<rect x="577.31" y="49.79" width="6.64" height="6.78" fill="#08081e"/>
<rect x="583.90" y="49.79" width="6.64" height="6.78" fill="#07071d"/>
<rect x="590.49" y="49.79" width="6.64" height="6.78" fill="#07071d"/>
<rect x="597.08" y="49.79" width="6.64" height="6.78" fill="#06071c"/>
<rect x="603.67" y="49.79" width="6.64" height="6.78" fill="#07071d"/>
<rect x="610.26" y="49.79" width="6.64" height="6.78" fill="#07071d"/>
<rect x="616.85" y="49.79" width="6.64" height="6.78" fill="#07071d"/>
<rect x="623.44" y="49.79" width="6.64" height="6.78" fill="#06071c"/>
<rect x="630.03" y="49.79" width="6.64" height="6.78" fill="#0a091f"/>
<rect x="636.62" y="49.79" width="6.64" height="6.78" fill="#08081e"/>
<rect x="643.21" y="49.79" width="6.64" height="6.78" fill="#0a091f"/>
<rect x="649.80" y="49.79" width="6.64" height="6.78" fill="#06071c"/>
<rect x="656.39" y="49.79" width="6.64" height="6.78" fill="#06071c"/>
<rect x="662.98" y="49.79" width="6.64" height="6.78" fill="#06071c"/>
<rect x="669.57" y="49.79" width="6.64" height="6.78" fill="#08081e"/>
<rect x="676.16" y="49.79" width="6.64" height="6.78" fill="#06071c"/>
<rect x="682.75" y="49.79" width="6.64" height="6.78" fill="#06071c"/>
<rect x="689.34" y="49.79" width="6.64" height="6.78" fill="#07071d"/>
<rect x="695.93" y="49.79" width="6.64" height="6.78" fill="#08081e"/>
<rect x="702.52" y="49.79" width="6.64" height="6.78" fill="#08081e"/>
<rect x="709.11" y="49.79" width="6.64" height="6.78" fill="#06071c"/>
<rect x="715.70" y="49.79" width="6.64" height="6.78" fill="#06071c"/>
<rect x="722.29" y="49.79" width="6.64" height="6.78" fill="#08081e"/>
<rect x="728.88" y="49.79" width="6.64" height="6.78" fill="#07071d"/>
<rect x="735.47" y="49.79" width="6.64" height="6.78" fill="#08081e"/>
<rect x="742.06" y="49.79" width="6.64" height="6.78" fill="#06071c"/>
<rect x="748.65" y="49.79" width="6.64" height="6.78" fill="#06071c"/>
<rect x="755.24" y="49.79" width="6.64" height="6.78" fill="#08081e"/>
<rect x="761.83" y="49.79" width="6.64" height="6.78" fill="#07071d"/>
<rect x="768.42" y="49.79" width="6.64" height="6.78" fill="#06071c"/>
<rect x="775.01" y="49.79" width="6.64" height="6.78" fill="#08081e"/>
<rect x="518.00" y="56.53" width="6.64" height="6.78" fill="#160e27"/>
<rect x="524.59" y="56.53" width="6.64" height="6.78" fill="#140e26"/>
<rect x="531.18" y="56.53" width="6.64" height="6.78" fill="#140e26"/>
<rect x="537.77" y="56.53" width="6.64" height="6.78" fill="#0a091f"/>
<rect x="544.36" y="56.53" width="6.64" height="6.78" fill="#180f29"/>
<rect x="550.95" y="56.53" width="6.64" height="6.78" fill="#07071d"/>
<rect x="557.54" y="56.53" width="6.64" height="6.78" fill="#08081e"/>
<rect x="564.13" y="56.53" width="6.64" height="6.78" fill="#06071c"/>
<rect x="570.72" y="56.53" width="6.64" height="6.78" fill="#06071c"/>
<rect x="577.31" y="56.53" width="6.64" height="6.78" fill="#08081e"/>
<rect x="583.90" y="56.53" width="6.64" height="6.78" fill="#08081e"/>
<rect x="590.49" y="56.53" width="6.64" height="6.78" fill="#06071c"/>
<rect x="597.08" y="56.53" width="6.64" height="6.78" fill="#07071d"/>
<rect x="603.67" y="56.53" width="6.64" height="6.78" fill="#06071c"/>
<rect x="610.26" y="56.53" width="6.64" height="6.78" fill="#07071d"/>
<rect x="616.85" y="56.53" width="6.64" height="6.78" fill="#06071c"/>
<rect x="623.44" y="56.53" width="6.64" height="6.78" fill="#06071c"/>
<rect x="630.03" y="56.53" width="6.64" height="6.78" fill="#06071c"/>
<rect x="636.62" y="56.53" width="6.64" height="6.78" fill="#08081e"/>
<rect x="643.21" y="56.53" width="6.64" height="6.78" fill="#07071d"/>
<rect x="649.80" y="56.53" width="6.64" height="6.78" fill="#06071c"/>
<rect x="656.39" y="56.53" width="6.64" height="6.78" fill="#07071d"/>
<rect x="662.98" y="56.53" width="6.64" height="6.78" fill="#08081e"/>
<rect x="669.57" y="56.53" width="6.64" height="6.78" fill="#06071c"/>
<rect x="676.16" y="56.53" width="6.64" height="6.78" fill="#08081e"/>
<rect x="682.75" y="56.53" width="6.64" height="6.78" fill="#07071d"/>
<rect x="689.34" y="56.53" width="6.64" height="6.78" fill="#07071d"/>
<rect x="695.93" y="56.53" width="6.64" height="6.78" fill="#08081e"/>
<rect x="702.52" y="56.53" width="6.64" height="6.78" fill="#07071d"/>
<rect x="709.11" y="56.53" width="6.64" height="6.78" fill="#07071d"/>
<rect x="715.70" y="56.53" width="6.64" height="6.78" fill="#08081e"/>
<rect x="722.29" y="56.53" width="6.64" height="6.78" fill="#0a091f"/>
<rect x="728.88" y="56.53" width="6.64" height="6.78" fill="#07071d"/>
<rect x="735.47" y="56.53" width="6.64" height="6.78" fill="#08081e"/>
<rect x="742.06" y="56.53" width="6.64" height="6.78" fill="#08081e"/>
<rect x="748.65" y="56.53" width="6.64" height="6.78" fill="#08081e"/>
<rect x="755.24" y="56.53" width="6.64" height="6.78" fill="#07071d"/>
<rect x="761.83" y="56.53" width="6.64" height="6.78" fill="#07071d"/>
<rect x="768.42" y="56.53" width="6.64" height="6.78" fill="#06071c"/>
<rect x="775.01" y="56.53" width="6.64" height="6.78" fill="#06071c"/>
<rect x="518.00" y="63.26" width="6.64" height="6.78" fill="#110c24"/>
<rect x="524.59" y="63.26" width="6.64" height="6.78" fill="#07071d"/>
<rect x="531.18" y="63.26" width="6.64" height="6.78" fill="#140e26"/>
<rect x="537.77" y="63.26" width="6.64" height="6.78" fill="#130d25"/>
<rect x="544.36" y="63.26" width="6.64" height="6.78" fill="#07071d"/>
<rect x="550.95" y="63.26" width="6.64" height="6.78" fill="#0a091f"/>
<rect x="557.54" y="63.26" width="6.64" height="6.78" fill="#0a091f"/>
<rect x="564.13" y="63.26" width="6.64" height="6.78" fill="#180f29"/>
<rect x="570.72" y="63.26" width="6.64" height="6.78" fill="#100b23"/>
<rect x="577.31" y="63.26" width="6.64" height="6.78" fill="#180f29"/>
<rect x="583.90" y="63.26" width="6.64" height="6.78" fill="#07071d"/>
<rect x="590.49" y="63.26" width="6.64" height="6.78" fill="#07071d"/>
<rect x="597.08" y="63.26" width="6.64" height="6.78" fill="#06071c"/>
<rect x="603.67" y="63.26" width="6.64" height="6.78" fill="#07071d"/>
<rect x="610.26" y="63.26" width="6.64" height="6.78" fill="#07071d"/>
<rect x="616.85" y="63.26" width="6.64" height="6.78" fill="#07071d"/>
<rect x="623.44" y="63.26" width="6.64" height="6.78" fill="#06071c"/>
<rect x="630.03" y="63.26" width="6.64" height="6.78" fill="#07071d"/>
<rect x="636.62" y="63.26" width="6.64" height="6.78" fill="#06071c"/>
<rect x="643.21" y="63.26" width="6.64" height="6.78" fill="#06071c"/>
<rect x="649.80" y="63.26" width="6.64" height="6.78" fill="#06071c"/>
<rect x="656.39" y="63.26" width="6.64" height="6.78" fill="#07071d"/>
<rect x="662.98" y="63.26" width="6.64" height="6.78" fill="#06071c"/>
<rect x="669.57" y="63.26" width="6.64" height="6.78" fill="#06071c"/>
<rect x="676.16" y="63.26" width="6.64" height="6.78" fill="#07071d"/>
<rect x="682.75" y="63.26" width="6.64" height="6.78" fill="#06071c"/>
<rect x="689.34" y="63.26" width="6.64" height="6.78" fill="#07071d"/>
<rect x="695.93" y="63.26" width="6.64" height="6.78" fill="#07071d"/>
<rect x="702.52" y="63.26" width="6.64" height="6.78" fill="#08081e"/>
<rect x="709.11" y="63.26" width="6.64" height="6.78" fill="#08081e"/>
<rect x="715.70" y="63.26" width="6.64" height="6.78" fill="#08081e"/>
<rect x="722.29" y="63.26" width="6.64" height="6.78" fill="#08081e"/>
<rect x="728.88" y="63.26" width="6.64" height="6.78" fill="#07071d"/>
<rect x="735.47" y="63.26" width="6.64" height="6.78" fill="#07071d"/>
<rect x="742.06" y="63.26" width="6.64" height="6.78" fill="#0a091f"/>
<rect x="748.65" y="63.26" width="6.64" height="6.78" fill="#06071c"/>
<rect x="755.24" y="63.26" width="6.64" height="6.78" fill="#08081e"/>
<rect x="761.83" y="63.26" width="6.64" height="6.78" fill="#08081e"/>
<rect x="768.42" y="63.26" width="6.64" height="6.78" fill="#06071c"/>
<rect x="775.01" y="63.26" width="6.64" height="6.78" fill="#08081e"/>
<rect x="518.00" y="69.99" width="6.64" height="6.78" fill="#f58860"/>
<rect x="524.59" y="69.99" width="6.64" height="6.78" fill="#160e27"/>
<rect x="531.18" y="69.99" width="6.64" height="6.78" fill="#0b0920"/>
<rect x="537.77" y="69.99" width="6.64" height="6.78" fill="#160e27"/>
<rect x="544.36" y="69.99" width="6.64" height="6.78" fill="#170f28"/>
<rect x="550.95" y="69.99" width="6.64" height="6.78" fill="#180f29"/>
<rect x="557.54" y="69.99" width="6.64" height="6.78" fill="#110c24"/>
<rect x="564.13" y="69.99" width="6.64" height="6.78" fill="#06071c"/>
<rect x="570.72" y="69.99" width="6.64" height="6.78" fill="#08081e"/>
<rect x="577.31" y="69.99" width="6.64" height="6.78" fill="#140e26"/>
<rect x="583.90" y="69.99" width="6.64" height="6.78" fill="#07071d"/>
<rect x="590.49" y="69.99" width="6.64" height="6.78" fill="#08081e"/>
<rect x="597.08" y="69.99" width="6.64" height="6.78" fill="#07071d"/>
<rect x="603.67" y="69.99" width="6.64" height="6.78" fill="#08081e"/>
<rect x="610.26" y="69.99" width="6.64" height="6.78" fill="#07071d"/>
<rect x="616.85" y="69.99" width="6.64" height="6.78" fill="#06071c"/>
<rect x="623.44" y="69.99" width="6.64" height="6.78" fill="#08081e"/>
<rect x="630.03" y="69.99" width="6.64" height="6.78" fill="#08081e"/>
<rect x="636.62" y="69.99" width="6.64" height="6.78" fill="#07071d"/>
<rect x="643.21" y="69.99" width="6.64" height="6.78" fill="#07071d"/>
<rect x="649.80" y="69.99" width="6.64" height="6.78" fill="#08081e"/>
<rect x="656.39" y="69.99" width="6.64" height="6.78" fill="#06071c"/>
<rect x="662.98" y="69.99" width="6.64" height="6.78" fill="#08081e"/>
<rect x="669.57" y="69.99" width="6.64" height="6.78" fill="#06071c"/>
<rect x="676.16" y="69.99" width="6.64" height="6.78" fill="#06071c"/>
<rect x="682.75" y="69.99" width="6.64" height="6.78" fill="#06071c"/>
<rect x="689.34" y="69.99" width="6.64" height="6.78" fill="#08081e"/>
<rect x="695.93" y="69.99" width="6.64" height="6.78" fill="#06071c"/>
<rect x="702.52" y="69.99" width="6.64" height="6.78" fill="#08081e"/>
<rect x="709.11" y="69.99" width="6.64" height="6.78" fill="#0a091f"/>
<rect x="715.70" y="69.99" width="6.64" height="6.78" fill="#07071d"/>
<rect x="722.29" y="69.99" width="6.64" height="6.78" fill="#07071d"/>
<rect x="728.88" y="69.99" width="6.64" height="6.78" fill="#07071d"/>
<rect x="735.47" y="69.99" width="6.64" height="6.78" fill="#08081e"/>
<rect x="742.06" y="69.99" width="6.64" height="6.78" fill="#08081e"/>
<rect x="748.65" y="69.99" width="6.64" height="6.78" fill="#07071d"/>
<rect x="755.24" y="69.99" width="6.64" height="6.78" fill="#08081e"/>
<rect x="761.83" y="69.99" width="6.64" height="6.78" fill="#06071c"/>
<rect x="768.42" y="69.99" width="6.64" height="6.78" fill="#06071c"/>
<rect x="775.01" y="69.99" width="6.64" height="6.78" fill="#06071c"/>
<rect x="518.00" y="76.73" width="6.64" height="6.78" fill="#08081e"/>
<rect x="524.59" y="76.73" width="6.64" height="6.78" fill="#07071d"/>
<rect x="531.18" y="76.73" width="6.64" height="6.78" fill="#07071d"/>
<rect x="537.77" y="76.73" width="6.64" height="6.78" fill="#06071c"/>
<rect x="544.36" y="76.73" width="6.64" height="6.78" fill="#06071c"/>
<rect x="550.95" y="76.73" width="6.64" height="6.78" fill="#06071c"/>
<rect x="557.54" y="76.73" width="6.64" height="6.78" fill="#08081e"/>
<rect x="564.13" y="76.73" width="6.64" height="6.78" fill="#08081e"/>
<rect x="570.72" y="76.73" width="6.64" height="6.78" fill="#08081e"/>
<rect x="577.31" y="76.73" width="6.64" height="6.78" fill="#06071c"/>
<rect x="583.90" y="76.73" width="6.64" height="6.78" fill="#e23442"/>
<rect x="590.49" y="76.73" width="6.64" height="6.78" fill="#07071d"/>
<rect x="597.08" y="76.73" width="6.64" height="6.78" fill="#0a091f"/>
<rect x="603.67" y="76.73" width="6.64" height="6.78" fill="#1b112b"/>
<rect x="610.26" y="76.73" width="6.64" height="6.78" fill="#0a091f"/>
<rect x="616.85" y="76.73" width="6.64" height="6.78" fill="#1b112b"/>
<rect x="623.44" y="76.73" width="6.64" height="6.78" fill="#08081e"/>
<rect x="630.03" y="76.73" width="6.64" height="6.78" fill="#180f29"/>
<rect x="636.62" y="76.73" width="6.64" height="6.78" fill="#0d0a21"/>
<rect x="643.21" y="76.73" width="6.64" height="6.78" fill="#0b0920"/>
<rect x="649.80" y="76.73" width="6.64" height="6.78" fill="#08081e"/>
<rect x="656.39" y="76.73" width="6.64" height="6.78" fill="#06071c"/>
<rect x="662.98" y="76.73" width="6.64" height="6.78" fill="#08081e"/>
<rect x="669.57" y="76.73" width="6.64" height="6.78" fill="#07071d"/>
<rect x="676.16" y="76.73" width="6.64" height="6.78" fill="#08081e"/>
<rect x="682.75" y="76.73" width="6.64" height="6.78" fill="#08081e"/>
<rect x="689.34" y="76.73" width="6.64" height="6.78" fill="#06071c"/>
<rect x="695.93" y="76.73" width="6.64" height="6.78" fill="#08081e"/>
<rect x="702.52" y="76.73" width="6.64" height="6.78" fill="#07071d"/>
<rect x="709.11" y="76.73" width="6.64" height="6.78" fill="#06071c"/>
<rect x="715.70" y="76.73" width="6.64" height="6.78" fill="#06071c"/>
<rect x="722.29" y="76.73" width="6.64" height="6.78" fill="#07071d"/>
<rect x="728.88" y="76.73" width="6.64" height="6.78" fill="#07071d"/>
<rect x="735.47" y="76.73" width="6.64" height="6.78" fill="#06071c"/>
<rect x="742.06" y="76.73" width="6.64" height="6.78" fill="#06071c"/>
<rect x="748.65" y="76.73" width="6.64" height="6.78" fill="#07071d"/>
<rect x="755.24" y="76.73" width="6.64" height="6.78" fill="#07071d"/>
<rect x="761.83" y="76.73" width="6.64" height="6.78" fill="#08081e"/>
<rect x="768.42" y="76.73" width="6.64" height="6.78" fill="#06071c"/>
<rect x="775.01" y="76.73" width="6.64" height="6.78" fill="#08081e"/>
<rect x="518.00" y="83.46" width="6.64" height="6.78" fill="#08081e"/>
<rect x="524.59" y="83.46" width="6.64" height="6.78" fill="#06071c"/>
<rect x="531.18" y="83.46" width="6.64" height="6.78" fill="#08081e"/>
<rect x="537.77" y="83.46" width="6.64" height="6.78" fill="#08081e"/>
<rect x="544.36" y="83.46" width="6.64" height="6.78" fill="#08081e"/>
<rect x="550.95" y="83.46" width="6.64" height="6.78" fill="#06071c"/>
<rect x="557.54" y="83.46" width="6.64" height="6.78" fill="#07071d"/>
<rect x="564.13" y="83.46" width="6.64" height="6.78" fill="#07071d"/>
<rect x="570.72" y="83.46" width="6.64" height="6.78" fill="#0a091f"/>
<rect x="577.31" y="83.46" width="6.64" height="6.78" fill="#07071d"/>
<rect x="583.90" y="83.46" width="6.64" height="6.78" fill="#0a091f"/>
<rect x="590.49" y="83.46" width="6.64" height="6.78" fill="#06071c"/>
<rect x="597.08" y="83.46" width="6.64" height="6.78" fill="#140e26"/>
<rect x="603.67" y="83.46" width="6.64" height="6.78" fill="#180f29"/>
<rect x="610.26" y="83.46" width="6.64" height="6.78" fill="#07071d"/>
<rect x="616.85" y="83.46" width="6.64" height="6.78" fill="#08081e"/>
<rect x="623.44" y="83.46" width="6.64" height="6.78" fill="#1a102a"/>
<rect x="630.03" y="83.46" width="6.64" height="6.78" fill="#170f28"/>
<rect x="636.62" y="83.46" width="6.64" height="6.78" fill="#180f29"/>
<rect x="643.21" y="83.46" width="6.64" height="6.78" fill="#100b23"/>
<rect x="649.80" y="83.46" width="6.64" height="6.78" fill="#08081e"/>
<rect x="656.39" y="83.46" width="6.64" height="6.78" fill="#06071c"/>
<rect x="662.98" y="83.46" width="6.64" height="6.78" fill="#08081e"/>
<rect x="669.57" y="83.46" width="6.64" height="6.78" fill="#07071d"/>
<rect x="676.16" y="83.46" width="6.64" height="6.78" fill="#08081e"/>
<rect x="682.75" y="83.46" width="6.64" height="6.78" fill="#08081e"/>
<rect x="689.34" y="83.46" width="6.64" height="6.78" fill="#06071c"/>
<rect x="695.93" y="83.46" width="6.64" height="6.78" fill="#06071c"/>
<rect x="702.52" y="83.46" width="6.64" height="6.78" fill="#08081e"/>
<rect x="709.11" y="83.46" width="6.64" height="6.78" fill="#06071c"/>
<rect x="715.70" y="83.46" width="6.64" height="6.78" fill="#07071d"/>
<rect x="722.29" y="83.46" width="6.64" height="6.78" fill="#07071d"/>
<rect x="728.88" y="83.46" width="6.64" height="6.78" fill="#06071c"/>
<rect x="735.47" y="83.46" width="6.64" height="6.78" fill="#08081e"/>
<rect x="742.06" y="83.46" width="6.64" height="6.78" fill="#0a091f"/>
<rect x="748.65" y="83.46" width="6.64" height="6.78" fill="#06071c"/>
<rect x="755.24" y="83.46" width="6.64" height="6.78" fill="#08081e"/>
<rect x="761.83" y="83.46" width="6.64" height="6.78" fill="#06071c"/>
<rect x="768.42" y="83.46" width="6.64" height="6.78" fill="#07071d"/>
<rect x="775.01" y="83.46" width="6.64" height="6.78" fill="#07071d"/>
<rect x="518.00" y="90.19" width="6.64" height="6.78" fill="#06071c"/>
<rect x="524.59" y="90.19" width="6.64" height="6.78" fill="#06071c"/>
<rect x="531.18" y="90.19" width="6.64" height="6.78" fill="#06071c"/>
<rect x="537.77" y="90.19" width="6.64" height="6.78" fill="#08081e"/>
<rect x="544.36" y="90.19" width="6.64" height="6.78" fill="#07071d"/>
<rect x="550.95" y="90.19" width="6.64" height="6.78" fill="#06071c"/>
<rect x="557.54" y="90.19" width="6.64" height="6.78" fill="#08081e"/>
<rect x="564.13" y="90.19" width="6.64" height="6.78" fill="#0a091f"/>
<rect x="570.72" y="90.19" width="6.64" height="6.78" fill="#07071d"/>
<rect x="577.31" y="90.19" width="6.64" height="6.78" fill="#06071c"/>
<rect x="583.90" y="90.19" width="6.64" height="6.78" fill="#06071c"/>
<rect x="590.49" y="90.19" width="6.64" height="6.78" fill="#07071d"/>
<rect x="597.08" y="90.19" width="6.64" height="6.78" fill="#07071d"/>
<rect x="603.67" y="90.19" width="6.64" height="6.78" fill="#170f28"/>
<rect x="610.26" y="90.19" width="6.64" height="6.78" fill="#0b0920"/>
<rect x="616.85" y="90.19" width="6.64" height="6.78" fill="#0d0a21"/>
<rect x="623.44" y="90.19" width="6.64" height="6.78" fill="#08081e"/>
<rect x="630.03" y="90.19" width="6.64" height="6.78" fill="#07071d"/>
<rect x="636.62" y="90.19" width="6.64" height="6.78" fill="#0a091f"/>
<rect x="643.21" y="90.19" width="6.64" height="6.78" fill="#100b23"/>
<rect x="649.80" y="90.19" width="6.64" height="6.78" fill="#08081e"/>
<rect x="656.39" y="90.19" width="6.64" height="6.78" fill="#06071c"/>
<rect x="662.98" y="90.19" width="6.64" height="6.78" fill="#06071c"/>
<rect x="669.57" y="90.19" width="6.64" height="6.78" fill="#06071c"/>
<rect x="676.16" y="90.19" width="6.64" height="6.78" fill="#07071d"/>
<rect x="682.75" y="90.19" width="6.64" height="6.78" fill="#07071d"/>
<rect x="689.34" y="90.19" width="6.64" height="6.78" fill="#0a091f"/>
<rect x="695.93" y="90.19" width="6.64" height="6.78" fill="#08081e"/>
<rect x="702.52" y="90.19" width="6.64" height="6.78" fill="#08081e"/>
<rect x="709.11" y="90.19" width="6.64" height="6.78" fill="#06071c"/>
<rect x="715.70" y="90.19" width="6.64" height="6.78" fill="#06071c"/>
<rect x="722.29" y="90.19" width="6.64" height="6.78" fill="#08081e"/>
<rect x="728.88" y="90.19" width="6.64" height="6.78" fill="#08081e"/>
<rect x="735.47" y="90.19" width="6.64" height="6.78" fill="#07071d"/>
<rect x="742.06" y="90.19" width="6.64" height="6.78" fill="#07071d"/>
<rect x="748.65" y="90.19" width="6.64" height="6.78" fill="#06071c"/>
<rect x="755.24" y="90.19" width="6.64" height="6.78" fill="#07071d"/>
<rect x="761.83" y="90.19" width="6.64" height="6.78" fill="#08081e"/>
<rect x="768.42" y="90.19" width="6.64" height="6.78" fill="#08081e"/>
<rect x="775.01" y="90.19" width="6.64" height="6.78" fill="#08081e"/>
<rect x="518.00" y="96.92" width="6.64" height="6.78" fill="#0a091f"/>
<rect x="524.59" y="96.92" width="6.64" height="6.78" fill="#06071c"/>
<rect x="531.18" y="96.92" width="6.64" height="6.78" fill="#06071c"/>
<rect x="537.77" y="96.92" width="6.64" height="6.78" fill="#06071c"/>
<rect x="544.36" y="96.92" width="6.64" height="6.78" fill="#07071d"/>
<rect x="550.95" y="96.92" width="6.64" height="6.78" fill="#08081e"/>
<rect x="557.54" y="96.92" width="6.64" height="6.78" fill="#08081e"/>
<rect x="564.13" y="96.92" width="6.64" height="6.78" fill="#08081e"/>
<rect x="570.72" y="96.92" width="6.64" height="6.78" fill="#08081e"/>
<rect x="577.31" y="96.92" width="6.64" height="6.78" fill="#08081e"/>
<rect x="583.90" y="96.92" width="6.64" height="6.78" fill="#0d0a21"/>
<rect x="590.49" y="96.92" width="6.64" height="6.78" fill="#501d4c"/>
<rect x="597.08" y="96.92" width="6.64" height="6.78" fill="#170f28"/>
<rect x="603.67" y="96.92" width="6.64" height="6.78" fill="#0a091f"/>
<rect x="610.26" y="96.92" width="6.64" height="6.78" fill="#07071d"/>
<rect x="616.85" y="96.92" width="6.64" height="6.78" fill="#110c24"/>
<rect x="623.44" y="96.92" width="6.64" height="6.78" fill="#06071c"/>
<rect x="630.03" y="96.92" width="6.64" height="6.78" fill="#0e0b22"/>
<rect x="636.62" y="96.92" width="6.64" height="6.78" fill="#07071d"/>
<rect x="643.21" y="96.92" width="6.64" height="6.78" fill="#07071d"/>
<rect x="649.80" y="96.92" width="6.64" height="6.78" fill="#06071c"/>
<rect x="656.39" y="96.92" width="6.64" height="6.78" fill="#07071d"/>
<rect x="662.98" y="96.92" width="6.64" height="6.78" fill="#0a091f"/>
<rect x="669.57" y="96.92" width="6.64" height="6.78" fill="#08081e"/>
<rect x="676.16" y="96.92" width="6.64" height="6.78" fill="#08081e"/>
<rect x="682.75" y="96.92" width="6.64" height="6.78" fill="#07071d"/>
<rect x="689.34" y="96.92" width="6.64" height="6.78" fill="#06071c"/>
<rect x="695.93" y="96.92" width="6.64" height="6.78" fill="#06071c"/>
<rect x="702.52" y="96.92" width="6.64" height="6.78" fill="#0a091f"/>
<rect x="709.11" y="96.92" width="6.64" height="6.78" fill="#08081e"/>
<rect x="715.70" y="96.92" width="6.64" height="6.78" fill="#07071d"/>
<rect x="722.29" y="96.92" width="6.64" height="6.78" fill="#06071c"/>
<rect x="728.88" y="96.92" width="6.64" height="6.78" fill="#07071d"/>
<rect x="735.47" y="96.92" width="6.64" height="6.78" fill="#08081e"/>
<rect x="742.06" y="96.92" width="6.64" height="6.78" fill="#07071d"/>
<rect x="748.65" y="96.92" width="6.64" height="6.78" fill="#06071c"/>
<rect x="755.24" y="96.92" width="6.64" height="6.78" fill="#08081e"/>
<rect x="761.83" y="96.92" width="6.64" height="6.78" fill="#08081e"/>
<rect x="768.42" y="96.92" width="6.64" height="6.78" fill="#06071c"/>
<rect x="775.01" y="96.92" width="6.64" height="6.78" fill="#06071c"/>
<rect x="518.00" y="103.66" width="6.64" height="6.78" fill="#07071d"/>
<rect x="524.59" y="103.66" width="6.64" height="6.78" fill="#07071d"/>
<rect x="531.18" y="103.66" width="6.64" height="6.78" fill="#08081e"/>
<rect x="537.77" y="103.66" width="6.64" height="6.78" fill="#06071c"/>
<rect x="544.36" y="103.66" width="6.64" height="6.78" fill="#08081e"/>
<rect x="550.95" y="103.66" width="6.64" height="6.78" fill="#08081e"/>
<rect x="557.54" y="103.66" width="6.64" height="6.78" fill="#07071d"/>
<rect x="564.13" y="103.66" width="6.64" height="6.78" fill="#06071c"/>
<rect x="570.72" y="103.66" width="6.64" height="6.78" fill="#0a091f"/>
<rect x="577.31" y="103.66" width="6.64" height="6.78" fill="#07071d"/>
<rect x="583.90" y="103.66" width="6.64" height="6.78" fill="#3c1a42"/>
<rect x="590.49" y="103.66" width="6.64" height="6.78" fill="#110c24"/>
<rect x="597.08" y="103.66" width="6.64" height="6.78" fill="#180f29"/>
<rect x="603.67" y="103.66" width="6.64" height="6.78" fill="#08081e"/>
<rect x="610.26" y="103.66" width="6.64" height="6.78" fill="#0a091f"/>
<rect x="616.85" y="103.66" width="6.64" height="6.78" fill="#1a102a"/>
<rect x="623.44" y="103.66" width="6.64" height="6.78" fill="#08081e"/>
<rect x="630.03" y="103.66" width="6.64" height="6.78" fill="#1a102a"/>
<rect x="636.62" y="103.66" width="6.64" height="6.78" fill="#06071c"/>
<rect x="643.21" y="103.66" width="6.64" height="6.78" fill="#08081e"/>
<rect x="649.80" y="103.66" width="6.64" height="6.78" fill="#08081e"/>
<rect x="656.39" y="103.66" width="6.64" height="6.78" fill="#08081e"/>
<rect x="662.98" y="103.66" width="6.64" height="6.78" fill="#08081e"/>
<rect x="669.57" y="103.66" width="6.64" height="6.78" fill="#0a091f"/>
<rect x="676.16" y="103.66" width="6.64" height="6.78" fill="#08081e"/>
<rect x="682.75" y="103.66" width="6.64" height="6.78" fill="#07071d"/>
<rect x="689.34" y="103.66" width="6.64" height="6.78" fill="#06071c"/>
<rect x="695.93" y="103.66" width="6.64" height="6.78" fill="#08081e"/>
<rect x="702.52" y="103.66" width="6.64" height="6.78" fill="#08081e"/>
<rect x="709.11" y="103.66" width="6.64" height="6.78" fill="#06071c"/>
<rect x="715.70" y="103.66" width="6.64" height="6.78" fill="#08081e"/>
<rect x="722.29" y="103.66" width="6.64" height="6.78" fill="#07071d"/>
<rect x="728.88" y="103.66" width="6.64" height="6.78" fill="#07071d"/>
<rect x="735.47" y="103.66" width="6.64" height="6.78" fill="#07071d"/>
<rect x="742.06" y="103.66" width="6.64" height="6.78" fill="#06071c"/>
<rect x="748.65" y="103.66" width="6.64" height="6.78" fill="#06071c"/>
<rect x="755.24" y="103.66" width="6.64" height="6.78" fill="#06071c"/>
<rect x="761.83" y="103.66" width="6.64" height="6.78" fill="#07071d"/>
<rect x="768.42" y="103.66" width="6.64" height="6.78" fill="#0a091f"/>
<rect x="775.01" y="103.66" width="6.64" height="6.78" fill="#06071c"/>
<rect x="518.00" y="110.39" width="6.64" height="6.78" fill="#0a091f"/>
<rect x="524.59" y="110.39" width="6.64" height="6.78" fill="#06071c"/>
<rect x="531.18" y="110.39" width="6.64" height="6.78" fill="#07071d"/>
<rect x="537.77" y="110.39" width="6.64" height="6.78" fill="#08081e"/>
<rect x="544.36" y="110.39" width="6.64" height="6.78" fill="#08081e"/>
<rect x="550.95" y="110.39" width="6.64" height="6.78" fill="#07071d"/>
<rect x="557.54" y="110.39" width="6.64" height="6.78" fill="#06071c"/>
<rect x="564.13" y="110.39" width="6.64" height="6.78" fill="#07071d"/>
<rect x="570.72" y="110.39" width="6.64" height="6.78" fill="#07071d"/>
<rect x="577.31" y="110.39" width="6.64" height="6.78" fill="#08081e"/>
<rect x="583.90" y="110.39" width="6.64" height="6.78" fill="#de2e44"/>
<rect x="590.49" y="110.39" width="6.64" height="6.78" fill="#08081e"/>
<rect x="597.08" y="110.39" width="6.64" height="6.78" fill="#140e26"/>
<rect x="603.67" y="110.39" width="6.64" height="6.78" fill="#08081e"/>
<rect x="610.26" y="110.39" width="6.64" height="6.78" fill="#06071c"/>
<rect x="616.85" y="110.39" width="6.64" height="6.78" fill="#0a091f"/>
<rect x="623.44" y="110.39" width="6.64" height="6.78" fill="#871e5b"/>
<rect x="630.03" y="110.39" width="6.64" height="6.78" fill="#08081e"/>
<rect x="636.62" y="110.39" width="6.64" height="6.78" fill="#110c24"/>
<rect x="643.21" y="110.39" width="6.64" height="6.78" fill="#110c24"/>
<rect x="649.80" y="110.39" width="6.64" height="6.78" fill="#07071d"/>
<rect x="656.39" y="110.39" width="6.64" height="6.78" fill="#06071c"/>
<rect x="662.98" y="110.39" width="6.64" height="6.78" fill="#06071c"/>
<rect x="669.57" y="110.39" width="6.64" height="6.78" fill="#08081e"/>
<rect x="676.16" y="110.39" width="6.64" height="6.78" fill="#08081e"/>
<rect x="682.75" y="110.39" width="6.64" height="6.78" fill="#08081e"/>
<rect x="689.34" y="110.39" width="6.64" height="6.78" fill="#08081e"/>
<rect x="695.93" y="110.39" width="6.64" height="6.78" fill="#06071c"/>
<rect x="702.52" y="110.39" width="6.64" height="6.78" fill="#06071c"/>
<rect x="709.11" y="110.39" width="6.64" height="6.78" fill="#07071d"/>
<rect x="715.70" y="110.39" width="6.64" height="6.78" fill="#0a091f"/>
<rect x="722.29" y="110.39" width="6.64" height="6.78" fill="#0a091f"/>
<rect x="728.88" y="110.39" width="6.64" height="6.78" fill="#07071d"/>
<rect x="735.47" y="110.39" width="6.64" height="6.78" fill="#06071c"/>
<rect x="742.06" y="110.39" width="6.64" height="6.78" fill="#07071d"/>
<rect x="748.65" y="110.39" width="6.64" height="6.78" fill="#07071d"/>
<rect x="755.24" y="110.39" width="6.64" height="6.78" fill="#08081e"/>
<rect x="761.83" y="110.39" width="6.64" height="6.78" fill="#06071c"/>
<rect x="768.42" y="110.39" width="6.64" height="6.78" fill="#08081e"/>
<rect x="775.01" y="110.39" width="6.64" height="6.78" fill="#08081e"/>
<rect x="518.00" y="117.12" width="6.64" height="6.78" fill="#08081e"/>
<rect x="524.59" y="117.12" width="6.64" height="6.78" fill="#08081e"/>
<rect x="531.18" y="117.12" width="6.64" height="6.78" fill="#07071d"/>
<rect x="537.77" y="117.12" width="6.64" height="6.78" fill="#07071d"/>
<rect x="544.36" y="117.12" width="6.64" height="6.78" fill="#07071d"/>
<rect x="550.95" y="117.12" width="6.64" height="6.78" fill="#07071d"/>
<rect x="557.54" y="117.12" width="6.64" height="6.78" fill="#08081e"/>
<rect x="564.13" y="117.12" width="6.64" height="6.78" fill="#06071c"/>
<rect x="570.72" y="117.12" width="6.64" height="6.78" fill="#06071c"/>
<rect x="577.31" y="117.12" width="6.64" height="6.78" fill="#08081e"/>
<rect x="583.90" y="117.12" width="6.64" height="6.78" fill="#06071c"/>
<rect x="590.49" y="117.12" width="6.64" height="6.78" fill="#0b0920"/>
<rect x="597.08" y="117.12" width="6.64" height="6.78" fill="#1a102a"/>
<rect x="603.67" y="117.12" width="6.64" height="6.78" fill="#1d112c"/>
<rect x="610.26" y="117.12" width="6.64" height="6.78" fill="#06071c"/>
<rect x="616.85" y="117.12" width="6.64" height="6.78" fill="#0a091f"/>
<rect x="623.44" y="117.12" width="6.64" height="6.78" fill="#0d0a21"/>
<rect x="630.03" y="117.12" width="6.64" height="6.78" fill="#f6b691"/>
<rect x="636.62" y="117.12" width="6.64" height="6.78" fill="#110c24"/>
<rect x="643.21" y="117.12" width="6.64" height="6.78" fill="#170f28"/>
<rect x="649.80" y="117.12" width="6.64" height="6.78" fill="#08081e"/>
<rect x="656.39" y="117.12" width="6.64" height="6.78" fill="#06071c"/>
<rect x="662.98" y="117.12" width="6.64" height="6.78" fill="#08081e"/>
<rect x="669.57" y="117.12" width="6.64" height="6.78" fill="#06071c"/>
<rect x="676.16" y="117.12" width="6.64" height="6.78" fill="#07071d"/>
<rect x="682.75" y="117.12" width="6.64" height="6.78" fill="#07071d"/>
<rect x="689.34" y="117.12" width="6.64" height="6.78" fill="#08081e"/>
<rect x="695.93" y="117.12" width="6.64" height="6.78" fill="#06071c"/>
<rect x="702.52" y="117.12" width="6.64" height="6.78" fill="#06071c"/>
<rect x="709.11" y="117.12" width="6.64" height="6.78" fill="#06071c"/>
<rect x="715.70" y="117.12" width="6.64" height="6.78" fill="#06071c"/>
<rect x="722.29" y="117.12" width="6.64" height="6.78" fill="#08081e"/>
<rect x="728.88" y="117.12" width="6.64" height="6.78" fill="#07071d"/>
<rect x="735.47" y="117.12" width="6.64" height="6.78" fill="#07071d"/>
<rect x="742.06" y="117.12" width="6.64" height="6.78" fill="#07071d"/>
<rect x="748.65" y="117.12" width="6.64" height="6.78" fill="#0a091f"/>
<rect x="755.24" y="117.12" width="6.64" height="6.78" fill="#07071d"/>
<rect x="761.83" y="117.12" width="6.64" height="6.78" fill="#06071c"/>
<rect x="768.42" y="117.12" width="6.64" height="6.78" fill="#08081e"/>
<rect x="775.01" y="117.12" width="6.64" height="6.78" fill="#08081e"/>
<rect x="518.00" y="123.85" width="6.64" height="6.78" fill="#0a091f"/>
<rect x="524.59" y="123.85" width="6.64" height="6.78" fill="#06071c"/>
<rect x="531.18" y="123.85" width="6.64" height="6.78" fill="#07071d"/>
<rect x="537.77" y="123.85" width="6.64" height="6.78" fill="#08081e"/>
<rect x="544.36" y="123.85" width="6.64" height="6.78" fill="#08081e"/>
<rect x="550.95" y="123.85" width="6.64" height="6.78" fill="#08081e"/>
<rect x="557.54" y="123.85" width="6.64" height="6.78" fill="#06071c"/>
<rect x="564.13" y="123.85" width="6.64" height="6.78" fill="#06071c"/>
<rect x="570.72" y="123.85" width="6.64" height="6.78" fill="#06071c"/>
<rect x="577.31" y="123.85" width="6.64" height="6.78" fill="#06071c"/>
<rect x="583.90" y="123.85" width="6.64" height="6.78" fill="#100b23"/>
<rect x="590.49" y="123.85" width="6.64" height="6.78" fill="#1e122d"/>
<rect x="597.08" y="123.85" width="6.64" height="6.78" fill="#0d0a21"/>
<rect x="603.67" y="123.85" width="6.64" height="6.78" fill="#130d25"/>
<rect x="610.26" y="123.85" width="6.64" height="6.78" fill="#0a091f"/>
<rect x="616.85" y="123.85" width="6.64" height="6.78" fill="#100b23"/>
<rect x="623.44" y="123.85" width="6.64" height="6.78" fill="#08081e"/>
<rect x="630.03" y="123.85" width="6.64" height="6.78" fill="#07071d"/>
<rect x="636.62" y="123.85" width="6.64" height="6.78" fill="#0d0a21"/>
<rect x="643.21" y="123.85" width="6.64" height="6.78" fill="#08081e"/>
<rect x="649.80" y="123.85" width="6.64" height="6.78" fill="#06071c"/>
<rect x="656.39" y="123.85" width="6.64" height="6.78" fill="#07071d"/>
<rect x="662.98" y="123.85" width="6.64" height="6.78" fill="#08081e"/>
<rect x="669.57" y="123.85" width="6.64" height="6.78" fill="#06071c"/>
<rect x="676.16" y="123.85" width="6.64" height="6.78" fill="#07071d"/>
<rect x="682.75" y="123.85" width="6.64" height="6.78" fill="#06071c"/>
<rect x="689.34" y="123.85" width="6.64" height="6.78" fill="#08081e"/>
<rect x="695.93" y="123.85" width="6.64" height="6.78" fill="#07071d"/>
<rect x="702.52" y="123.85" width="6.64" height="6.78" fill="#06071c"/>
<rect x="709.11" y="123.85" width="6.64" height="6.78" fill="#06071c"/>
<rect x="715.70" y="123.85" width="6.64" height="6.78" fill="#07071d"/>
<rect x="722.29" y="123.85" width="6.64" height="6.78" fill="#07071d"/>
<rect x="728.88" y="123.85" width="6.64" height="6.78" fill="#08081e"/>
<rect x="735.47" y="123.85" width="6.64" height="6.78" fill="#06071c"/>
<rect x="742.06" y="123.85" width="6.64" height="6.78" fill="#06071c"/>
<rect x="748.65" y="123.85" width="6.64" height="6.78" fill="#08081e"/>
<rect x="755.24" y="123.85" width="6.64" height="6.78" fill="#07071d"/>
<rect x="761.83" y="123.85" width="6.64" height="6.78" fill="#06071c"/>
<rect x="768.42" y="123.85" width="6.64" height="6.78" fill="#07071d"/>
<rect x="775.01" y="123.85" width="6.64" height="6.78" fill="#0a091f"/>
<rect x="518.00" y="130.59" width="6.64" height="6.78" fill="#07071d"/>
<rect x="524.59" y="130.59" width="6.64" height="6.78" fill="#07071d"/>
<rect x="531.18" y="130.59" width="6.64" height="6.78" fill="#07071d"/>
<rect x="537.77" y="130.59" width="6.64" height="6.78" fill="#07071d"/>
<rect x="544.36" y="130.59" width="6.64" height="6.78" fill="#08081e"/>
<rect x="550.95" y="130.59" width="6.64" height="6.78" fill="#0a091f"/>
<rect x="557.54" y="130.59" width="6.64" height="6.78" fill="#07071d"/>
<rect x="564.13" y="130.59" width="6.64" height="6.78" fill="#06071c"/>
<rect x="570.72" y="130.59" width="6.64" height="6.78" fill="#08081e"/>
<rect x="577.31" y="130.59" width="6.64" height="6.78" fill="#06071c"/>
<rect x="583.90" y="130.59" width="6.64" height="6.78" fill="#160e27"/>
<rect x="590.49" y="130.59" width="6.64" height="6.78" fill="#140e26"/>
<rect x="597.08" y="130.59" width="6.64" height="6.78" fill="#170f28"/>
<rect x="603.67" y="130.59" width="6.64" height="6.78" fill="#07071d"/>
<rect x="610.26" y="130.59" width="6.64" height="6.78" fill="#381a40"/>
<rect x="616.85" y="130.59" width="6.64" height="6.78" fill="#180f29"/>
<rect x="623.44" y="130.59" width="6.64" height="6.78" fill="#0d0a21"/>
<rect x="630.03" y="130.59" width="6.64" height="6.78" fill="#0b0920"/>
<rect x="636.62" y="130.59" width="6.64" height="6.78" fill="#07071d"/>
<rect x="643.21" y="130.59" width="6.64" height="6.78" fill="#180f29"/>
<rect x="649.80" y="130.59" width="6.64" height="6.78" fill="#06071c"/>
<rect x="656.39" y="130.59" width="6.64" height="6.78" fill="#07071d"/>
<rect x="662.98" y="130.59" width="6.64" height="6.78" fill="#08081e"/>
<rect x="669.57" y="130.59" width="6.64" height="6.78" fill="#0a091f"/>
<rect x="676.16" y="130.59" width="6.64" height="6.78" fill="#06071c"/>
<rect x="682.75" y="130.59" width="6.64" height="6.78" fill="#06071c"/>
<rect x="689.34" y="130.59" width="6.64" height="6.78" fill="#08081e"/>
<rect x="695.93" y="130.59" width="6.64" height="6.78" fill="#0a091f"/>
<rect x="702.52" y="130.59" width="6.64" height="6.78" fill="#07071d"/>
<rect x="709.11" y="130.59" width="6.64" height="6.78" fill="#06071c"/>
<rect x="715.70" y="130.59" width="6.64" height="6.78" fill="#08081e"/>
<rect x="722.29" y="130.59" width="6.64" height="6.78" fill="#07071d"/>
<rect x="728.88" y="130.59" width="6.64" height="6.78" fill="#08081e"/>
<rect x="735.47" y="130.59" width="6.64" height="6.78" fill="#07071d"/>
<rect x="742.06" y="130.59" width="6.64" height="6.78" fill="#08081e"/>
<rect x="748.65" y="130.59" width="6.64" height="6.78" fill="#06071c"/>
<rect x="755.24" y="130.59" width="6.64" height="6.78" fill="#08081e"/>
<rect x="761.83" y="130.59" width="6.64" height="6.78" fill="#06071c"/>
<rect x="768.42" y="130.59" width="6.64" height="6.78" fill="#07071d"/>
<rect x="775.01" y="130.59" width="6.64" height="6.78" fill="#08081e"/>
<rect x="518.00" y="137.32" width="6.64" height="6.78" fill="#08081e"/>
<rect x="524.59" y="137.32" width="6.64" height="6.78" fill="#06071c"/>
<rect x="531.18" y="137.32" width="6.64" height="6.78" fill="#06071c"/>
<rect x="537.77" y="137.32" width="6.64" height="6.78" fill="#07071d"/>
<rect x="544.36" y="137.32" width="6.64" height="6.78" fill="#07071d"/>
<rect x="550.95" y="137.32" width="6.64" height="6.78" fill="#07071d"/>
<rect x="557.54" y="137.32" width="6.64" height="6.78" fill="#06071c"/>
<rect x="564.13" y="137.32" width="6.64" height="6.78" fill="#06071c"/>
<rect x="570.72" y="137.32" width="6.64" height="6.78" fill="#08081e"/>
<rect x="577.31" y="137.32" width="6.64" height="6.78" fill="#08081e"/>
<rect x="583.90" y="137.32" width="6.64" height="6.78" fill="#0b0920"/>
<rect x="590.49" y="137.32" width="6.64" height="6.78" fill="#08081e"/>
<rect x="597.08" y="137.32" width="6.64" height="6.78" fill="#08081e"/>
<rect x="603.67" y="137.32" width="6.64" height="6.78" fill="#0e0b22"/>
<rect x="610.26" y="137.32" width="6.64" height="6.78" fill="#221331"/>
<rect x="616.85" y="137.32" width="6.64" height="6.78" fill="#0e0b22"/>
<rect x="623.44" y="137.32" width="6.64" height="6.78" fill="#100b23"/>
<rect x="630.03" y="137.32" width="6.64" height="6.78" fill="#0b0920"/>
<rect x="636.62" y="137.32" width="6.64" height="6.78" fill="#0d0a21"/>
<rect x="643.21" y="137.32" width="6.64" height="6.78" fill="#08081e"/>
<rect x="649.80" y="137.32" width="6.64" height="6.78" fill="#08081e"/>
<rect x="656.39" y="137.32" width="6.64" height="6.78" fill="#08081e"/>
<rect x="662.98" y="137.32" width="6.64" height="6.78" fill="#07071d"/>
<rect x="669.57" y="137.32" width="6.64" height="6.78" fill="#06071c"/>
<rect x="676.16" y="137.32" width="6.64" height="6.78" fill="#07071d"/>
<rect x="682.75" y="137.32" width="6.64" height="6.78" fill="#06071c"/>
<rect x="689.34" y="137.32" width="6.64" height="6.78" fill="#06071c"/>
<rect x="695.93" y="137.32" width="6.64" height="6.78" fill="#07071d"/>
<rect x="702.52" y="137.32" width="6.64" height="6.78" fill="#06071c"/>
<rect x="709.11" y="137.32" width="6.64" height="6.78" fill="#07071d"/>
<rect x="715.70" y="137.32" width="6.64" height="6.78" fill="#07071d"/>
<rect x="722.29" y="137.32" width="6.64" height="6.78" fill="#06071c"/>
<rect x="728.88" y="137.32" width="6.64" height="6.78" fill="#08081e"/>
<rect x="735.47" y="137.32" width="6.64" height="6.78" fill="#06071c"/>
<rect x="742.06" y="137.32" width="6.64" height="6.78" fill="#08081e"/>
<rect x="748.65" y="137.32" width="6.64" height="6.78" fill="#08081e"/>
<rect x="755.24" y="137.32" width="6.64" height="6.78" fill="#07071d"/>
<rect x="761.83" y="137.32" width="6.64" height="6.78" fill="#06071c"/>
<rect x="768.42" y="137.32" width="6.64" height="6.78" fill="#07071d"/>
<rect x="775.01" y="137.32" width="6.64" height="6.78" fill="#07071d"/>
<rect x="518.00" y="144.05" width="6.64" height="6.78" fill="#08081e"/>
<rect x="524.59" y="144.05" width="6.64" height="6.78" fill="#06071c"/>
<rect x="531.18" y="144.05" width="6.64" height="6.78" fill="#08081e"/>
<rect x="537.77" y="144.05" width="6.64" height="6.78" fill="#0a091f"/>
<rect x="544.36" y="144.05" width="6.64" height="6.78" fill="#08081e"/>
<rect x="550.95" y="144.05" width="6.64" height="6.78" fill="#08081e"/>
<rect x="557.54" y="144.05" width="6.64" height="6.78" fill="#06071c"/>
<rect x="564.13" y="144.05" width="6.64" height="6.78" fill="#0a091f"/>
<rect x="570.72" y="144.05" width="6.64" height="6.78" fill="#07071d"/>
<rect x="577.31" y="144.05" width="6.64" height="6.78" fill="#0a091f"/>
<rect x="583.90" y="144.05" width="6.64" height="6.78" fill="#08081e"/>
<rect x="590.49" y="144.05" width="6.64" height="6.78" fill="#06071c"/>
<rect x="597.08" y="144.05" width="6.64" height="6.78" fill="#08081e"/>
<rect x="603.67" y="144.05" width="6.64" height="6.78" fill="#08081e"/>
<rect x="610.26" y="144.05" width="6.64" height="6.78" fill="#06071c"/>
<rect x="616.85" y="144.05" width="6.64" height="6.78" fill="#07071d"/>
<rect x="623.44" y="144.05" width="6.64" height="6.78" fill="#08081e"/>
<rect x="630.03" y="144.05" width="6.64" height="6.78" fill="#06071c"/>
<rect x="636.62" y="144.05" width="6.64" height="6.78" fill="#08081e"/>
<rect x="643.21" y="144.05" width="6.64" height="6.78" fill="#06071c"/>
<rect x="649.80" y="144.05" width="6.64" height="6.78" fill="#08081e"/>
<rect x="656.39" y="144.05" width="6.64" height="6.78" fill="#180f29"/>
<rect x="662.98" y="144.05" width="6.64" height="6.78" fill="#07071d"/>
<rect x="669.57" y="144.05" width="6.64" height="6.78" fill="#0a091f"/>
<rect x="676.16" y="144.05" width="6.64" height="6.78" fill="#06071c"/>
<rect x="682.75" y="144.05" width="6.64" height="6.78" fill="#170f28"/>
<rect x="689.34" y="144.05" width="6.64" height="6.78" fill="#180f29"/>
<rect x="695.93" y="144.05" width="6.64" height="6.78" fill="#130d25"/>
<rect x="702.52" y="144.05" width="6.64" height="6.78" fill="#0b0920"/>
<rect x="709.11" y="144.05" width="6.64" height="6.78" fill="#f6b691"/>
<rect x="715.70" y="144.05" width="6.64" height="6.78" fill="#08081e"/>
<rect x="722.29" y="144.05" width="6.64" height="6.78" fill="#07071d"/>
<rect x="728.88" y="144.05" width="6.64" height="6.78" fill="#07071d"/>
<rect x="735.47" y="144.05" width="6.64" height="6.78" fill="#08081e"/>
<rect x="742.06" y="144.05" width="6.64" height="6.78" fill="#06071c"/>
<rect x="748.65" y="144.05" width="6.64" height="6.78" fill="#0a091f"/>
<rect x="755.24" y="144.05" width="6.64" height="6.78" fill="#08081e"/>
<rect x="761.83" y="144.05" width="6.64" height="6.78" fill="#07071d"/>
<rect x="768.42" y="144.05" width="6.64" height="6.78" fill="#08081e"/>
<rect x="775.01" y="144.05" width="6.64" height="6.78" fill="#06071c"/>
<rect x="518.00" y="150.78" width="6.64" height="6.78" fill="#0a091f"/>
<rect x="524.59" y="150.78" width="6.64" height="6.78" fill="#07071d"/>
<rect x="531.18" y="150.78" width="6.64" height="6.78" fill="#07071d"/>
<rect x="537.77" y="150.78" width="6.64" height="6.78" fill="#08081e"/>
<rect x="544.36" y="150.78" width="6.64" height="6.78" fill="#07071d"/>
<rect x="550.95" y="150.78" width="6.64" height="6.78" fill="#06071c"/>
<rect x="557.54" y="150.78" width="6.64" height="6.78" fill="#08081e"/>
<rect x="564.13" y="150.78" width="6.64" height="6.78" fill="#06071c"/>
<rect x="570.72" y="150.78" width="6.64" height="6.78" fill="#08081e"/>
<rect x="577.31" y="150.78" width="6.64" height="6.78" fill="#06071c"/>
<rect x="583.90" y="150.78" width="6.64" height="6.78" fill="#08081e"/>
<rect x="590.49" y="150.78" width="6.64" height="6.78" fill="#0a091f"/>
<rect x="597.08" y="150.78" width="6.64" height="6.78" fill="#07071d"/>
<rect x="603.67" y="150.78" width="6.64" height="6.78" fill="#08081e"/>
<rect x="610.26" y="150.78" width="6.64" height="6.78" fill="#07071d"/>
<rect x="616.85" y="150.78" width="6.64" height="6.78" fill="#06071c"/>
<rect x="623.44" y="150.78" width="6.64" height="6.78" fill="#06071c"/>
<rect x="630.03" y="150.78" width="6.64" height="6.78" fill="#06071c"/>
<rect x="636.62" y="150.78" width="6.64" height="6.78" fill="#07071d"/>
<rect x="643.21" y="150.78" width="6.64" height="6.78" fill="#07071d"/>
<rect x="649.80" y="150.78" width="6.64" height="6.78" fill="#170f28"/>
<rect x="656.39" y="150.78" width="6.64" height="6.78" fill="#07071d"/>
<rect x="662.98" y="150.78" width="6.64" height="6.78" fill="#08081e"/>
<rect x="669.57" y="150.78" width="6.64" height="6.78" fill="#07071d"/>
<rect x="676.16" y="150.78" width="6.64" height="6.78" fill="#08081e"/>
<rect x="682.75" y="150.78" width="6.64" height="6.78" fill="#0d0a21"/>
<rect x="689.34" y="150.78" width="6.64" height="6.78" fill="#08081e"/>
<rect x="695.93" y="150.78" width="6.64" height="6.78" fill="#0d0a21"/>
<rect x="702.52" y="150.78" width="6.64" height="6.78" fill="#170f28"/>
<rect x="709.11" y="150.78" width="6.64" height="6.78" fill="#07071d"/>
<rect x="715.70" y="150.78" width="6.64" height="6.78" fill="#06071c"/>
<rect x="722.29" y="150.78" width="6.64" height="6.78" fill="#08081e"/>
<rect x="728.88" y="150.78" width="6.64" height="6.78" fill="#08081e"/>
<rect x="735.47" y="150.78" width="6.64" height="6.78" fill="#08081e"/>
<rect x="742.06" y="150.78" width="6.64" height="6.78" fill="#07071d"/>
<rect x="748.65" y="150.78" width="6.64" height="6.78" fill="#06071c"/>
<rect x="755.24" y="150.78" width="6.64" height="6.78" fill="#06071c"/>
<rect x="761.83" y="150.78" width="6.64" height="6.78" fill="#08081e"/>
<rect x="768.42" y="150.78" width="6.64" height="6.78" fill="#07071d"/>
<rect x="775.01" y="150.78" width="6.64" height="6.78" fill="#07071d"/>
<rect x="518.00" y="157.52" width="6.64" height="6.78" fill="#08081e"/>
<rect x="524.59" y="157.52" width="6.64" height="6.78" fill="#07071d"/>
<rect x="531.18" y="157.52" width="6.64" height="6.78" fill="#08081e"/>
<rect x="537.77" y="157.52" width="6.64" height="6.78" fill="#08081e"/>
<rect x="544.36" y="157.52" width="6.64" height="6.78" fill="#06071c"/>
<rect x="550.95" y="157.52" width="6.64" height="6.78" fill="#08081e"/>
<rect x="557.54" y="157.52" width="6.64" height="6.78" fill="#06071c"/>
<rect x="564.13" y="157.52" width="6.64" height="6.78" fill="#07071d"/>
<rect x="570.72" y="157.52" width="6.64" height="6.78" fill="#07071d"/>
<rect x="577.31" y="157.52" width="6.64" height="6.78" fill="#06071c"/>
<rect x="583.90" y="157.52" width="6.64" height="6.78" fill="#06071c"/>
<rect x="590.49" y="157.52" width="6.64" height="6.78" fill="#08081e"/>
<rect x="597.08" y="157.52" width="6.64" height="6.78" fill="#06071c"/>
<rect x="603.67" y="157.52" width="6.64" height="6.78" fill="#07071d"/>
<rect x="610.26" y="157.52" width="6.64" height="6.78" fill="#08081e"/>
<rect x="616.85" y="157.52" width="6.64" height="6.78" fill="#06071c"/>
<rect x="623.44" y="157.52" width="6.64" height="6.78" fill="#06071c"/>
<rect x="630.03" y="157.52" width="6.64" height="6.78" fill="#07071d"/>
<rect x="636.62" y="157.52" width="6.64" height="6.78" fill="#07071d"/>
<rect x="643.21" y="157.52" width="6.64" height="6.78" fill="#08081e"/>
<rect x="649.80" y="157.52" width="6.64" height="6.78" fill="#0a091f"/>
<rect x="656.39" y="157.52" width="6.64" height="6.78" fill="#08081e"/>
<rect x="662.98" y="157.52" width="6.64" height="6.78" fill="#160e27"/>
<rect x="669.57" y="157.52" width="6.64" height="6.78" fill="#130d25"/>
<rect x="676.16" y="157.52" width="6.64" height="6.78" fill="#140e26"/>
<rect x="682.75" y="157.52" width="6.64" height="6.78" fill="#0d0a21"/>
<rect x="689.34" y="157.52" width="6.64" height="6.78" fill="#0d0a21"/>
<rect x="695.93" y="157.52" width="6.64" height="6.78" fill="#06071c"/>
<rect x="702.52" y="157.52" width="6.64" height="6.78" fill="#d82748"/>
<rect x="709.11" y="157.52" width="6.64" height="6.78" fill="#130d25"/>
<rect x="715.70" y="157.52" width="6.64" height="6.78" fill="#08081e"/>
<rect x="722.29" y="157.52" width="6.64" height="6.78" fill="#08081e"/>
<rect x="728.88" y="157.52" width="6.64" height="6.78" fill="#08081e"/>
<rect x="735.47" y="157.52" width="6.64" height="6.78" fill="#06071c"/>
<rect x="742.06" y="157.52" width="6.64" height="6.78" fill="#07071d"/>
<rect x="748.65" y="157.52" width="6.64" height="6.78" fill="#07071d"/>
<rect x="755.24" y="157.52" width="6.64" height="6.78" fill="#08081e"/>
<rect x="761.83" y="157.52" width="6.64" height="6.78" fill="#07071d"/>
<rect x="768.42" y="157.52" width="6.64" height="6.78" fill="#06071c"/>
<rect x="775.01" y="157.52" width="6.64" height="6.78" fill="#08081e"/>
<rect x="518.00" y="164.25" width="6.64" height="6.78" fill="#0a091f"/>
<rect x="524.59" y="164.25" width="6.64" height="6.78" fill="#06071c"/>
<rect x="531.18" y="164.25" width="6.64" height="6.78" fill="#08081e"/>
<rect x="537.77" y="164.25" width="6.64" height="6.78" fill="#06071c"/>
<rect x="544.36" y="164.25" width="6.64" height="6.78" fill="#06071c"/>
<rect x="550.95" y="164.25" width="6.64" height="6.78" fill="#06071c"/>
<rect x="557.54" y="164.25" width="6.64" height="6.78" fill="#08081e"/>
<rect x="564.13" y="164.25" width="6.64" height="6.78" fill="#08081e"/>
<rect x="570.72" y="164.25" width="6.64" height="6.78" fill="#08081e"/>
<rect x="577.31" y="164.25" width="6.64" height="6.78" fill="#07071d"/>
<rect x="583.90" y="164.25" width="6.64" height="6.78" fill="#08081e"/>
<rect x="590.49" y="164.25" width="6.64" height="6.78" fill="#07071d"/>
<rect x="597.08" y="164.25" width="6.64" height="6.78" fill="#06071c"/>
<rect x="603.67" y="164.25" width="6.64" height="6.78" fill="#08081e"/>
<rect x="610.26" y="164.25" width="6.64" height="6.78" fill="#08081e"/>
<rect x="616.85" y="164.25" width="6.64" height="6.78" fill="#08081e"/>
<rect x="623.44" y="164.25" width="6.64" height="6.78" fill="#08081e"/>
<rect x="630.03" y="164.25" width="6.64" height="6.78" fill="#0a091f"/>
<rect x="636.62" y="164.25" width="6.64" height="6.78" fill="#07071d"/>
<rect x="643.21" y="164.25" width="6.64" height="6.78" fill="#08081e"/>
<rect x="649.80" y="164.25" width="6.64" height="6.78" fill="#db2946"/>
<rect x="656.39" y="164.25" width="6.64" height="6.78" fill="#110c24"/>
<rect x="662.98" y="164.25" width="6.64" height="6.78" fill="#0a091f"/>
<rect x="669.57" y="164.25" width="6.64" height="6.78" fill="#0e0b22"/>
<rect x="676.16" y="164.25" width="6.64" height="6.78" fill="#160e27"/>
<rect x="682.75" y="164.25" width="6.64" height="6.78" fill="#06071c"/>
<rect x="689.34" y="164.25" width="6.64" height="6.78" fill="#170f28"/>
<rect x="695.93" y="164.25" width="6.64" height="6.78" fill="#07071d"/>
<rect x="702.52" y="164.25" width="6.64" height="6.78" fill="#481c48"/>
<rect x="709.11" y="164.25" width="6.64" height="6.78" fill="#100b23"/>
<rect x="715.70" y="164.25" width="6.64" height="6.78" fill="#08081e"/>
<rect x="722.29" y="164.25" width="6.64" height="6.78" fill="#08081e"/>
<rect x="728.88" y="164.25" width="6.64" height="6.78" fill="#06071c"/>
<rect x="735.47" y="164.25" width="6.64" height="6.78" fill="#07071d"/>
<rect x="742.06" y="164.25" width="6.64" height="6.78" fill="#07071d"/>
<rect x="748.65" y="164.25" width="6.64" height="6.78" fill="#08081e"/>
<rect x="755.24" y="164.25" width="6.64" height="6.78" fill="#08081e"/>
<rect x="761.83" y="164.25" width="6.64" height="6.78" fill="#08081e"/>
<rect x="768.42" y="164.25" width="6.64" height="6.78" fill="#06071c"/>
<rect x="775.01" y="164.25" width="6.64" height="6.78" fill="#08081e"/>
<rect x="518.00" y="170.98" width="6.64" height="6.78" fill="#08081e"/>
<rect x="524.59" y="170.98" width="6.64" height="6.78" fill="#08081e"/>
<rect x="531.18" y="170.98" width="6.64" height="6.78" fill="#06071c"/>
<rect x="537.77" y="170.98" width="6.64" height="6.78" fill="#06071c"/>
<rect x="544.36" y="170.98" width="6.64" height="6.78" fill="#06071c"/>
<rect x="550.95" y="170.98" width="6.64" height="6.78" fill="#06071c"/>
<rect x="557.54" y="170.98" width="6.64" height="6.78" fill="#08081e"/>
<rect x="564.13" y="170.98" width="6.64" height="6.78" fill="#08081e"/>
<rect x="570.72" y="170.98" width="6.64" height="6.78" fill="#08081e"/>
<rect x="577.31" y="170.98" width="6.64" height="6.78" fill="#08081e"/>
<rect x="583.90" y="170.98" width="6.64" height="6.78" fill="#08081e"/>
<rect x="590.49" y="170.98" width="6.64" height="6.78" fill="#06071c"/>
<rect x="597.08" y="170.98" width="6.64" height="6.78" fill="#06071c"/>
<rect x="603.67" y="170.98" width="6.64" height="6.78" fill="#06071c"/>
<rect x="610.26" y="170.98" width="6.64" height="6.78" fill="#08081e"/>
<rect x="616.85" y="170.98" width="6.64" height="6.78" fill="#06071c"/>
<rect x="623.44" y="170.98" width="6.64" height="6.78" fill="#07071d"/>
<rect x="630.03" y="170.98" width="6.64" height="6.78" fill="#07071d"/>
<rect x="636.62" y="170.98" width="6.64" height="6.78" fill="#06071c"/>
<rect x="643.21" y="170.98" width="6.64" height="6.78" fill="#06071c"/>
<rect x="649.80" y="170.98" width="6.64" height="6.78" fill="#251433"/>
<rect x="656.39" y="170.98" width="6.64" height="6.78" fill="#08081e"/>
<rect x="662.98" y="170.98" width="6.64" height="6.78" fill="#0e0b22"/>
<rect x="669.57" y="170.98" width="6.64" height="6.78" fill="#110c24"/>
<rect x="676.16" y="170.98" width="6.64" height="6.78" fill="#08081e"/>
<rect x="682.75" y="170.98" width="6.64" height="6.78" fill="#130d25"/>
<rect x="689.34" y="170.98" width="6.64" height="6.78" fill="#110c24"/>
<rect x="695.93" y="170.98" width="6.64" height="6.78" fill="#4c1d4b"/>
<rect x="702.52" y="170.98" width="6.64" height="6.78" fill="#08081e"/>
<rect x="709.11" y="170.98" width="6.64" height="6.78" fill="#08081e"/>
<rect x="715.70" y="170.98" width="6.64" height="6.78" fill="#06071c"/>
<rect x="722.29" y="170.98" width="6.64" height="6.78" fill="#06071c"/>
<rect x="728.88" y="170.98" width="6.64" height="6.78" fill="#08081e"/>
<rect x="735.47" y="170.98" width="6.64" height="6.78" fill="#0a091f"/>
<rect x="742.06" y="170.98" width="6.64" height="6.78" fill="#06071c"/>
<rect x="748.65" y="170.98" width="6.64" height="6.78" fill="#07071d"/>
<rect x="755.24" y="170.98" width="6.64" height="6.78" fill="#07071d"/>
<rect x="761.83" y="170.98" width="6.64" height="6.78" fill="#08081e"/>
<rect x="768.42" y="170.98" width="6.64" height="6.78" fill="#06071c"/>
<rect x="775.01" y="170.98" width="6.64" height="6.78" fill="#07071d"/>
<rect x="518.00" y="177.71" width="6.64" height="6.78" fill="#07071d"/>
<rect x="524.59" y="177.71" width="6.64" height="6.78" fill="#08081e"/>
<rect x="531.18" y="177.71" width="6.64" height="6.78" fill="#06071c"/>
<rect x="537.77" y="177.71" width="6.64" height="6.78" fill="#08081e"/>
<rect x="544.36" y="177.71" width="6.64" height="6.78" fill="#06071c"/>
<rect x="550.95" y="177.71" width="6.64" height="6.78" fill="#06071c"/>
<rect x="557.54" y="177.71" width="6.64" height="6.78" fill="#08081e"/>
<rect x="564.13" y="177.71" width="6.64" height="6.78" fill="#07071d"/>
<rect x="570.72" y="177.71" width="6.64" height="6.78" fill="#06071c"/>
<rect x="577.31" y="177.71" width="6.64" height="6.78" fill="#08081e"/>
<rect x="583.90" y="177.71" width="6.64" height="6.78" fill="#06071c"/>
<rect x="590.49" y="177.71" width="6.64" height="6.78" fill="#08081e"/>
<rect x="597.08" y="177.71" width="6.64" height="6.78" fill="#08081e"/>
<rect x="603.67" y="177.71" width="6.64" height="6.78" fill="#08081e"/>
<rect x="610.26" y="177.71" width="6.64" height="6.78" fill="#08081e"/>
<rect x="616.85" y="177.71" width="6.64" height="6.78" fill="#07071d"/>
<rect x="623.44" y="177.71" width="6.64" height="6.78" fill="#07071d"/>
<rect x="630.03" y="177.71" width="6.64" height="6.78" fill="#07071d"/>
<rect x="636.62" y="177.71" width="6.64" height="6.78" fill="#08081e"/>
<rect x="643.21" y="177.71" width="6.64" height="6.78" fill="#06071c"/>
<rect x="649.80" y="177.71" width="6.64" height="6.78" fill="#871e5b"/>
<rect x="656.39" y="177.71" width="6.64" height="6.78" fill="#07071d"/>
<rect x="662.98" y="177.71" width="6.64" height="6.78" fill="#0e0b22"/>
<rect x="669.57" y="177.71" width="6.64" height="6.78" fill="#170f28"/>
<rect x="676.16" y="177.71" width="6.64" height="6.78" fill="#0a091f"/>
<rect x="682.75" y="177.71" width="6.64" height="6.78" fill="#130d25"/>
<rect x="689.34" y="177.71" width="6.64" height="6.78" fill="#110c24"/>
<rect x="695.93" y="177.71" width="6.64" height="6.78" fill="#08081e"/>
<rect x="702.52" y="177.71" width="6.64" height="6.78" fill="#140e26"/>
<rect x="709.11" y="177.71" width="6.64" height="6.78" fill="#34193d"/>
<rect x="715.70" y="177.71" width="6.64" height="6.78" fill="#06071c"/>
<rect x="722.29" y="177.71" width="6.64" height="6.78" fill="#07071d"/>
<rect x="728.88" y="177.71" width="6.64" height="6.78" fill="#08081e"/>
<rect x="735.47" y="177.71" width="6.64" height="6.78" fill="#07071d"/>
<rect x="742.06" y="177.71" width="6.64" height="6.78" fill="#06071c"/>
<rect x="748.65" y="177.71" width="6.64" height="6.78" fill="#07071d"/>
<rect x="755.24" y="177.71" width="6.64" height="6.78" fill="#08081e"/>
<rect x="761.83" y="177.71" width="6.64" height="6.78" fill="#06071c"/>
<rect x="768.42" y="177.71" width="6.64" height="6.78" fill="#06071c"/>
<rect x="775.01" y="177.71" width="6.64" height="6.78" fill="#06071c"/>
<rect x="518.00" y="184.44" width="6.64" height="6.78" fill="#08081e"/>
<rect x="524.59" y="184.44" width="6.64" height="6.78" fill="#08081e"/>
<rect x="531.18" y="184.44" width="6.64" height="6.78" fill="#06071c"/>
<rect x="537.77" y="184.44" width="6.64" height="6.78" fill="#06071c"/>
<rect x="544.36" y="184.44" width="6.64" height="6.78" fill="#06071c"/>
<rect x="550.95" y="184.44" width="6.64" height="6.78" fill="#07071d"/>
<rect x="557.54" y="184.44" width="6.64" height="6.78" fill="#07071d"/>
<rect x="564.13" y="184.44" width="6.64" height="6.78" fill="#06071c"/>
<rect x="570.72" y="184.44" width="6.64" height="6.78" fill="#07071d"/>
<rect x="577.31" y="184.44" width="6.64" height="6.78" fill="#06071c"/>
<rect x="583.90" y="184.44" width="6.64" height="6.78" fill="#0a091f"/>
<rect x="590.49" y="184.44" width="6.64" height="6.78" fill="#08081e"/>
<rect x="597.08" y="184.44" width="6.64" height="6.78" fill="#06071c"/>
<rect x="603.67" y="184.44" width="6.64" height="6.78" fill="#0a091f"/>
<rect x="610.26" y="184.44" width="6.64" height="6.78" fill="#06071c"/>
<rect x="616.85" y="184.44" width="6.64" height="6.78" fill="#07071d"/>
<rect x="623.44" y="184.44" width="6.64" height="6.78" fill="#0a091f"/>
<rect x="630.03" y="184.44" width="6.64" height="6.78" fill="#08081e"/>
<rect x="636.62" y="184.44" width="6.64" height="6.78" fill="#08081e"/>
<rect x="643.21" y="184.44" width="6.64" height="6.78" fill="#07071d"/>
<rect x="649.80" y="184.44" width="6.64" height="6.78" fill="#0e0b22"/>
<rect x="656.39" y="184.44" width="6.64" height="6.78" fill="#07071d"/>
<rect x="662.98" y="184.44" width="6.64" height="6.78" fill="#07071d"/>
<rect x="669.57" y="184.44" width="6.64" height="6.78" fill="#140e26"/>
<rect x="676.16" y="184.44" width="6.64" height="6.78" fill="#0d0a21"/>
<rect x="682.75" y="184.44" width="6.64" height="6.78" fill="#0d0a21"/>
<rect x="689.34" y="184.44" width="6.64" height="6.78" fill="#0d0a21"/>
<rect x="695.93" y="184.44" width="6.64" height="6.78" fill="#130d25"/>
<rect x="702.52" y="184.44" width="6.64" height="6.78" fill="#0d0a21"/>
<rect x="709.11" y="184.44" width="6.64" height="6.78" fill="#130d25"/>
<rect x="715.70" y="184.44" width="6.64" height="6.78" fill="#07071d"/>
<rect x="722.29" y="184.44" width="6.64" height="6.78" fill="#06071c"/>
<rect x="728.88" y="184.44" width="6.64" height="6.78" fill="#08081e"/>
<rect x="735.47" y="184.44" width="6.64" height="6.78" fill="#08081e"/>
<rect x="742.06" y="184.44" width="6.64" height="6.78" fill="#08081e"/>
<rect x="748.65" y="184.44" width="6.64" height="6.78" fill="#08081e"/>
<rect x="755.24" y="184.44" width="6.64" height="6.78" fill="#08081e"/>
<rect x="761.83" y="184.44" width="6.64" height="6.78" fill="#08081e"/>
<rect x="768.42" y="184.44" width="6.64" height="6.78" fill="#08081e"/>
<rect x="775.01" y="184.44" width="6.64" height="6.78" fill="#07071d"/>
<rect x="518.00" y="191.18" width="6.64" height="6.78" fill="#07071d"/>
<rect x="524.59" y="191.18" width="6.64" height="6.78" fill="#08081e"/>
<rect x="531.18" y="191.18" width="6.64" height="6.78" fill="#06071c"/>
<rect x="537.77" y="191.18" width="6.64" height="6.78" fill="#07071d"/>
<rect x="544.36" y="191.18" width="6.64" height="6.78" fill="#08081e"/>
<rect x="550.95" y="191.18" width="6.64" height="6.78" fill="#08081e"/>
<rect x="557.54" y="191.18" width="6.64" height="6.78" fill="#08081e"/>
<rect x="564.13" y="191.18" width="6.64" height="6.78" fill="#06071c"/>
<rect x="570.72" y="191.18" width="6.64" height="6.78" fill="#07071d"/>
<rect x="577.31" y="191.18" width="6.64" height="6.78" fill="#07071d"/>
<rect x="583.90" y="191.18" width="6.64" height="6.78" fill="#07071d"/>
<rect x="590.49" y="191.18" width="6.64" height="6.78" fill="#07071d"/>
<rect x="597.08" y="191.18" width="6.64" height="6.78" fill="#08081e"/>
<rect x="603.67" y="191.18" width="6.64" height="6.78" fill="#08081e"/>
<rect x="610.26" y="191.18" width="6.64" height="6.78" fill="#06071c"/>
<rect x="616.85" y="191.18" width="6.64" height="6.78" fill="#08081e"/>
<rect x="623.44" y="191.18" width="6.64" height="6.78" fill="#08081e"/>
<rect x="630.03" y="191.18" width="6.64" height="6.78" fill="#07071d"/>
<rect x="636.62" y="191.18" width="6.64" height="6.78" fill="#07071d"/>
<rect x="643.21" y="191.18" width="6.64" height="6.78" fill="#0a091f"/>
<rect x="649.80" y="191.18" width="6.64" height="6.78" fill="#0b0920"/>
<rect x="656.39" y="191.18" width="6.64" height="6.78" fill="#130d25"/>
<rect x="662.98" y="191.18" width="6.64" height="6.78" fill="#0e0b22"/>
<rect x="669.57" y="191.18" width="6.64" height="6.78" fill="#0d0a21"/>
<rect x="676.16" y="191.18" width="6.64" height="6.78" fill="#110c24"/>
<rect x="682.75" y="191.18" width="6.64" height="6.78" fill="#100b23"/>
<rect x="689.34" y="191.18" width="6.64" height="6.78" fill="#0e0b22"/>
<rect x="695.93" y="191.18" width="6.64" height="6.78" fill="#180f29"/>
<rect x="702.52" y="191.18" width="6.64" height="6.78" fill="#100b23"/>
<rect x="709.11" y="191.18" width="6.64" height="6.78" fill="#130d25"/>
<rect x="715.70" y="191.18" width="6.64" height="6.78" fill="#06071c"/>
<rect x="722.29" y="191.18" width="6.64" height="6.78" fill="#0a091f"/>
<rect x="728.88" y="191.18" width="6.64" height="6.78" fill="#07071d"/>
<rect x="735.47" y="191.18" width="6.64" height="6.78" fill="#06071c"/>
<rect x="742.06" y="191.18" width="6.64" height="6.78" fill="#06071c"/>
<rect x="748.65" y="191.18" width="6.64" height="6.78" fill="#07071d"/>
<rect x="755.24" y="191.18" width="6.64" height="6.78" fill="#06071c"/>
<rect x="761.83" y="191.18" width="6.64" height="6.78" fill="#07071d"/>
<rect x="768.42" y="191.18" width="6.64" height="6.78" fill="#07071d"/>
<rect x="775.01" y="191.18" width="6.64" height="6.78" fill="#08081e"/>
<rect x="518.00" y="197.91" width="6.64" height="6.78" fill="#07071d"/>
<rect x="524.59" y="197.91" width="6.64" height="6.78" fill="#06071c"/>
<rect x="531.18" y="197.91" width="6.64" height="6.78" fill="#06071c"/>
<rect x="537.77" y="197.91" width="6.64" height="6.78" fill="#08081e"/>
<rect x="544.36" y="197.91" width="6.64" height="6.78" fill="#08081e"/>
<rect x="550.95" y="197.91" width="6.64" height="6.78" fill="#07071d"/>
<rect x="557.54" y="197.91" width="6.64" height="6.78" fill="#06071c"/>
<rect x="564.13" y="197.91" width="6.64" height="6.78" fill="#08081e"/>
<rect x="570.72" y="197.91" width="6.64" height="6.78" fill="#07071d"/>
<rect x="577.31" y="197.91" width="6.64" height="6.78" fill="#06071c"/>
<rect x="583.90" y="197.91" width="6.64" height="6.78" fill="#06071c"/>
<rect x="590.49" y="197.91" width="6.64" height="6.78" fill="#08081e"/>
<rect x="597.08" y="197.91" width="6.64" height="6.78" fill="#08081e"/>
<rect x="603.67" y="197.91" width="6.64" height="6.78" fill="#08081e"/>
<rect x="610.26" y="197.91" width="6.64" height="6.78" fill="#07071d"/>
<rect x="616.85" y="197.91" width="6.64" height="6.78" fill="#07071d"/>
<rect x="623.44" y="197.91" width="6.64" height="6.78" fill="#06071c"/>
<rect x="630.03" y="197.91" width="6.64" height="6.78" fill="#0a091f"/>
<rect x="636.62" y="197.91" width="6.64" height="6.78" fill="#07071d"/>
<rect x="643.21" y="197.91" width="6.64" height="6.78" fill="#08081e"/>
<rect x="649.80" y="197.91" width="6.64" height="6.78" fill="#160e27"/>
<rect x="656.39" y="197.91" width="6.64" height="6.78" fill="#08081e"/>
<rect x="662.98" y="197.91" width="6.64" height="6.78" fill="#07071d"/>
<rect x="669.57" y="197.91" width="6.64" height="6.78" fill="#0b0920"/>
<rect x="676.16" y="197.91" width="6.64" height="6.78" fill="#0a091f"/>
<rect x="682.75" y="197.91" width="6.64" height="6.78" fill="#08081e"/>
<rect x="689.34" y="197.91" width="6.64" height="6.78" fill="#07071d"/>
<rect x="695.93" y="197.91" width="6.64" height="6.78" fill="#100b23"/>
<rect x="702.52" y="197.91" width="6.64" height="6.78" fill="#07071d"/>
<rect x="709.11" y="197.91" width="6.64" height="6.78" fill="#0b0920"/>
<rect x="715.70" y="197.91" width="6.64" height="6.78" fill="#07071d"/>
<rect x="722.29" y="197.91" width="6.64" height="6.78" fill="#08081e"/>
<rect x="728.88" y="197.91" width="6.64" height="6.78" fill="#08081e"/>
<rect x="735.47" y="197.91" width="6.64" height="6.78" fill="#07071d"/>
<rect x="742.06" y="197.91" width="6.64" height="6.78" fill="#08081e"/>
<rect x="748.65" y="197.91" width="6.64" height="6.78" fill="#08081e"/>
<rect x="755.24" y="197.91" width="6.64" height="6.78" fill="#06071c"/>
<rect x="761.83" y="197.91" width="6.64" height="6.78" fill="#08081e"/>
<rect x="768.42" y="197.91" width="6.64" height="6.78" fill="#08081e"/>
<rect x="775.01" y="197.91" width="6.64" height="6.78" fill="#08081e"/>
<rect x="518.00" y="204.64" width="6.64" height="6.78" fill="#06071c"/>
<rect x="524.59" y="204.64" width="6.64" height="6.78" fill="#08081e"/>
<rect x="531.18" y="204.64" width="6.64" height="6.78" fill="#08081e"/>
<rect x="537.77" y="204.64" width="6.64" height="6.78" fill="#06071c"/>
<rect x="544.36" y="204.64" width="6.64" height="6.78" fill="#06071c"/>
<rect x="550.95" y="204.64" width="6.64" height="6.78" fill="#08081e"/>
<rect x="557.54" y="204.64" width="6.64" height="6.78" fill="#08081e"/>
<rect x="564.13" y="204.64" width="6.64" height="6.78" fill="#06071c"/>
<rect x="570.72" y="204.64" width="6.64" height="6.78" fill="#06071c"/>
<rect x="577.31" y="204.64" width="6.64" height="6.78" fill="#06071c"/>
<rect x="583.90" y="204.64" width="6.64" height="6.78" fill="#06071c"/>
<rect x="590.49" y="204.64" width="6.64" height="6.78" fill="#08081e"/>
<rect x="597.08" y="204.64" width="6.64" height="6.78" fill="#07071d"/>
<rect x="603.67" y="204.64" width="6.64" height="6.78" fill="#06071c"/>
<rect x="610.26" y="204.64" width="6.64" height="6.78" fill="#08081e"/>
<rect x="616.85" y="204.64" width="6.64" height="6.78" fill="#08081e"/>
<rect x="623.44" y="204.64" width="6.64" height="6.78" fill="#06071c"/>
<rect x="630.03" y="204.64" width="6.64" height="6.78" fill="#08081e"/>
<rect x="636.62" y="204.64" width="6.64" height="6.78" fill="#07071d"/>
<rect x="643.21" y="204.64" width="6.64" height="6.78" fill="#08081e"/>
<rect x="649.80" y="204.64" width="6.64" height="6.78" fill="#180f29"/>
<rect x="656.39" y="204.64" width="6.64" height="6.78" fill="#170f28"/>
<rect x="662.98" y="204.64" width="6.64" height="6.78" fill="#100b23"/>
<rect x="669.57" y="204.64" width="6.64" height="6.78" fill="#130d25"/>
<rect x="676.16" y="204.64" width="6.64" height="6.78" fill="#170f28"/>
<rect x="682.75" y="204.64" width="6.64" height="6.78" fill="#08081e"/>
<rect x="689.34" y="204.64" width="6.64" height="6.78" fill="#f26b49"/>
<rect x="695.93" y="204.64" width="6.64" height="6.78" fill="#07071d"/>
<rect x="702.52" y="204.64" width="6.64" height="6.78" fill="#07071d"/>
<rect x="709.11" y="204.64" width="6.64" height="6.78" fill="#0d0a21"/>
<rect x="715.70" y="204.64" width="6.64" height="6.78" fill="#07071d"/>
<rect x="722.29" y="204.64" width="6.64" height="6.78" fill="#08081e"/>
<rect x="728.88" y="204.64" width="6.64" height="6.78" fill="#06071c"/>
<rect x="735.47" y="204.64" width="6.64" height="6.78" fill="#08081e"/>
<rect x="742.06" y="204.64" width="6.64" height="6.78" fill="#07071d"/>
<rect x="748.65" y="204.64" width="6.64" height="6.78" fill="#07071d"/>
<rect x="755.24" y="204.64" width="6.64" height="6.78" fill="#08081e"/>
<rect x="761.83" y="204.64" width="6.64" height="6.78" fill="#08081e"/>
<rect x="768.42" y="204.64" width="6.64" height="6.78" fill="#07071d"/>
<rect x="775.01" y="204.64" width="6.64" height="6.78" fill="#07071d"/>
<rect x="518.00" y="211.38" width="6.64" height="6.78" fill="#0a091f"/>
<rect x="524.59" y="211.38" width="6.64" height="6.78" fill="#06071c"/>
<rect x="531.18" y="211.38" width="6.64" height="6.78" fill="#08081e"/>
<rect x="537.77" y="211.38" width="6.64" height="6.78" fill="#08081e"/>
<rect x="544.36" y="211.38" width="6.64" height="6.78" fill="#06071c"/>
<rect x="550.95" y="211.38" width="6.64" height="6.78" fill="#07071d"/>
<rect x="557.54" y="211.38" width="6.64" height="6.78" fill="#08081e"/>
<rect x="564.13" y="211.38" width="6.64" height="6.78" fill="#08081e"/>
<rect x="570.72" y="211.38" width="6.64" height="6.78" fill="#07071d"/>
<rect x="577.31" y="211.38" width="6.64" height="6.78" fill="#0a091f"/>
<rect x="583.90" y="211.38" width="6.64" height="6.78" fill="#07071d"/>
<rect x="590.49" y="211.38" width="6.64" height="6.78" fill="#07071d"/>
<rect x="597.08" y="211.38" width="6.64" height="6.78" fill="#08081e"/>
<rect x="603.67" y="211.38" width="6.64" height="6.78" fill="#06071c"/>
<rect x="610.26" y="211.38" width="6.64" height="6.78" fill="#08081e"/>
<rect x="616.85" y="211.38" width="6.64" height="6.78" fill="#07071d"/>
<rect x="623.44" y="211.38" width="6.64" height="6.78" fill="#07071d"/>
<rect x="630.03" y="211.38" width="6.64" height="6.78" fill="#08081e"/>
<rect x="636.62" y="211.38" width="6.64" height="6.78" fill="#07071d"/>
<rect x="643.21" y="211.38" width="6.64" height="6.78" fill="#07071d"/>
<rect x="649.80" y="211.38" width="6.64" height="6.78" fill="#07071d"/>
<rect x="656.39" y="211.38" width="6.64" height="6.78" fill="#08081e"/>
<rect x="662.98" y="211.38" width="6.64" height="6.78" fill="#06071c"/>
<rect x="669.57" y="211.38" width="6.64" height="6.78" fill="#07071d"/>
<rect x="676.16" y="211.38" width="6.64" height="6.78" fill="#07071d"/>
<rect x="682.75" y="211.38" width="6.64" height="6.78" fill="#07071d"/>
<rect x="689.34" y="211.38" width="6.64" height="6.78" fill="#08081e"/>
<rect x="695.93" y="211.38" width="6.64" height="6.78" fill="#06071c"/>
<rect x="702.52" y="211.38" width="6.64" height="6.78" fill="#08081e"/>
<rect x="709.11" y="211.38" width="6.64" height="6.78" fill="#07071d"/>
<rect x="715.70" y="211.38" width="6.64" height="6.78" fill="#08081e"/>
<rect x="722.29" y="211.38" width="6.64" height="6.78" fill="#1b112b"/>
<rect x="728.88" y="211.38" width="6.64" height="6.78" fill="#140e26"/>
<rect x="735.47" y="211.38" width="6.64" height="6.78" fill="#08081e"/>
<rect x="742.06" y="211.38" width="6.64" height="6.78" fill="#0d0a21"/>
<rect x="748.65" y="211.38" width="6.64" height="6.78" fill="#2d1738"/>
<rect x="755.24" y="211.38" width="6.64" height="6.78" fill="#100b23"/>
<rect x="761.83" y="211.38" width="6.64" height="6.78" fill="#0e0b22"/>
<rect x="768.42" y="211.38" width="6.64" height="6.78" fill="#07071d"/>
<rect x="775.01" y="211.38" width="6.64" height="6.78" fill="#06071c"/>
<rect x="518.00" y="218.11" width="6.64" height="6.78" fill="#08081e"/>
<rect x="524.59" y="218.11" width="6.64" height="6.78" fill="#07071d"/>
<rect x="531.18" y="218.11" width="6.64" height="6.78" fill="#08081e"/>
<rect x="537.77" y="218.11" width="6.64" height="6.78" fill="#08081e"/>
<rect x="544.36" y="218.11" width="6.64" height="6.78" fill="#08081e"/>
<rect x="550.95" y="218.11" width="6.64" height="6.78" fill="#07071d"/>
<rect x="557.54" y="218.11" width="6.64" height="6.78" fill="#07071d"/>
<rect x="564.13" y="218.11" width="6.64" height="6.78" fill="#07071d"/>
<rect x="570.72" y="218.11" width="6.64" height="6.78" fill="#08081e"/>
<rect x="577.31" y="218.11" width="6.64" height="6.78" fill="#07071d"/>
<rect x="583.90" y="218.11" width="6.64" height="6.78" fill="#08081e"/>
<rect x="590.49" y="218.11" width="6.64" height="6.78" fill="#06071c"/>
<rect x="597.08" y="218.11" width="6.64" height="6.78" fill="#08081e"/>
<rect x="603.67" y="218.11" width="6.64" height="6.78" fill="#07071d"/>
<rect x="610.26" y="218.11" width="6.64" height="6.78" fill="#08081e"/>
<rect x="616.85" y="218.11" width="6.64" height="6.78" fill="#06071c"/>
<rect x="623.44" y="218.11" width="6.64" height="6.78" fill="#06071c"/>
<rect x="630.03" y="218.11" width="6.64" height="6.78" fill="#06071c"/>
<rect x="636.62" y="218.11" width="6.64" height="6.78" fill="#08081e"/>
<rect x="643.21" y="218.11" width="6.64" height="6.78" fill="#08081e"/>
<rect x="649.80" y="218.11" width="6.64" height="6.78" fill="#08081e"/>
<rect x="656.39" y="218.11" width="6.64" height="6.78" fill="#07071d"/>
<rect x="662.98" y="218.11" width="6.64" height="6.78" fill="#08081e"/>
<rect x="669.57" y="218.11" width="6.64" height="6.78" fill="#08081e"/>
<rect x="676.16" y="218.11" width="6.64" height="6.78" fill="#07071d"/>
<rect x="682.75" y="218.11" width="6.64" height="6.78" fill="#06071c"/>
<rect x="689.34" y="218.11" width="6.64" height="6.78" fill="#06071c"/>
<rect x="695.93" y="218.11" width="6.64" height="6.78" fill="#07071d"/>
<rect x="702.52" y="218.11" width="6.64" height="6.78" fill="#07071d"/>
<rect x="709.11" y="218.11" width="6.64" height="6.78" fill="#07071d"/>
<rect x="715.70" y="218.11" width="6.64" height="6.78" fill="#1a102a"/>
<rect x="722.29" y="218.11" width="6.64" height="6.78" fill="#0b0920"/>
<rect x="728.88" y="218.11" width="6.64" height="6.78" fill="#06071c"/>
<rect x="735.47" y="218.11" width="6.64" height="6.78" fill="#100b23"/>
<rect x="742.06" y="218.11" width="6.64" height="6.78" fill="#0d0a21"/>
<rect x="748.65" y="218.11" width="6.64" height="6.78" fill="#1e122d"/>
<rect x="755.24" y="218.11" width="6.64" height="6.78" fill="#1a102a"/>
<rect x="761.83" y="218.11" width="6.64" height="6.78" fill="#0e0b22"/>
<rect x="768.42" y="218.11" width="6.64" height="6.78" fill="#07071d"/>
<rect x="775.01" y="218.11" width="6.64" height="6.78" fill="#08081e"/>
<rect x="518.00" y="224.84" width="6.64" height="6.78" fill="#06071c"/>
<rect x="524.59" y="224.84" width="6.64" height="6.78" fill="#06071c"/>
<rect x="531.18" y="224.84" width="6.64" height="6.78" fill="#06071c"/>
<rect x="537.77" y="224.84" width="6.64" height="6.78" fill="#08081e"/>
<rect x="544.36" y="224.84" width="6.64" height="6.78" fill="#06071c"/>
<rect x="550.95" y="224.84" width="6.64" height="6.78" fill="#0a091f"/>
<rect x="557.54" y="224.84" width="6.64" height="6.78" fill="#06071c"/>
<rect x="564.13" y="224.84" width="6.64" height="6.78" fill="#08081e"/>
<rect x="570.72" y="224.84" width="6.64" height="6.78" fill="#06071c"/>
<rect x="577.31" y="224.84" width="6.64" height="6.78" fill="#06071c"/>
<rect x="583.90" y="224.84" width="6.64" height="6.78" fill="#08081e"/>
<rect x="590.49" y="224.84" width="6.64" height="6.78" fill="#06071c"/>
<rect x="597.08" y="224.84" width="6.64" height="6.78" fill="#08081e"/>
<rect x="603.67" y="224.84" width="6.64" height="6.78" fill="#06071c"/>
<rect x="610.26" y="224.84" width="6.64" height="6.78" fill="#06071c"/>
<rect x="616.85" y="224.84" width="6.64" height="6.78" fill="#08081e"/>
<rect x="623.44" y="224.84" width="6.64" height="6.78" fill="#08081e"/>
<rect x="630.03" y="224.84" width="6.64" height="6.78" fill="#08081e"/>
<rect x="636.62" y="224.84" width="6.64" height="6.78" fill="#08081e"/>
<rect x="643.21" y="224.84" width="6.64" height="6.78" fill="#06071c"/>
<rect x="649.80" y="224.84" width="6.64" height="6.78" fill="#08081e"/>
<rect x="656.39" y="224.84" width="6.64" height="6.78" fill="#08081e"/>
<rect x="662.98" y="224.84" width="6.64" height="6.78" fill="#07071d"/>
<rect x="669.57" y="224.84" width="6.64" height="6.78" fill="#08081e"/>
<rect x="676.16" y="224.84" width="6.64" height="6.78" fill="#06071c"/>
<rect x="682.75" y="224.84" width="6.64" height="6.78" fill="#0a091f"/>
<rect x="689.34" y="224.84" width="6.64" height="6.78" fill="#08081e"/>
<rect x="695.93" y="224.84" width="6.64" height="6.78" fill="#06071c"/>
<rect x="702.52" y="224.84" width="6.64" height="6.78" fill="#06071c"/>
<rect x="709.11" y="224.84" width="6.64" height="6.78" fill="#08081e"/>
<rect x="715.70" y="224.84" width="6.64" height="6.78" fill="#08081e"/>
<rect x="722.29" y="224.84" width="6.64" height="6.78" fill="#110c24"/>
<rect x="728.88" y="224.84" width="6.64" height="6.78" fill="#160e27"/>
<rect x="735.47" y="224.84" width="6.64" height="6.78" fill="#07071d"/>
<rect x="742.06" y="224.84" width="6.64" height="6.78" fill="#0d0a21"/>
<rect x="748.65" y="224.84" width="6.64" height="6.78" fill="#821e5a"/>
<rect x="755.24" y="224.84" width="6.64" height="6.78" fill="#130d25"/>
<rect x="761.83" y="224.84" width="6.64" height="6.78" fill="#100b23"/>
<rect x="768.42" y="224.84" width="6.64" height="6.78" fill="#0b0920"/>
<rect x="775.01" y="224.84" width="6.64" height="6.78" fill="#130d25"/>
<rect x="518.00" y="231.57" width="6.64" height="6.78" fill="#08081e"/>
<rect x="524.59" y="231.57" width="6.64" height="6.78" fill="#08081e"/>
<rect x="531.18" y="231.57" width="6.64" height="6.78" fill="#07071d"/>
<rect x="537.77" y="231.57" width="6.64" height="6.78" fill="#06071c"/>
<rect x="544.36" y="231.57" width="6.64" height="6.78" fill="#06071c"/>
<rect x="550.95" y="231.57" width="6.64" height="6.78" fill="#0a091f"/>
<rect x="557.54" y="231.57" width="6.64" height="6.78" fill="#08081e"/>
<rect x="564.13" y="231.57" width="6.64" height="6.78" fill="#08081e"/>
<rect x="570.72" y="231.57" width="6.64" height="6.78" fill="#07071d"/>
<rect x="577.31" y="231.57" width="6.64" height="6.78" fill="#07071d"/>
<rect x="583.90" y="231.57" width="6.64" height="6.78" fill="#0a091f"/>
<rect x="590.49" y="231.57" width="6.64" height="6.78" fill="#08081e"/>
<rect x="597.08" y="231.57" width="6.64" height="6.78" fill="#07071d"/>
<rect x="603.67" y="231.57" width="6.64" height="6.78" fill="#07071d"/>
<rect x="610.26" y="231.57" width="6.64" height="6.78" fill="#07071d"/>
<rect x="616.85" y="231.57" width="6.64" height="6.78" fill="#08081e"/>
<rect x="623.44" y="231.57" width="6.64" height="6.78" fill="#07071d"/>
<rect x="630.03" y="231.57" width="6.64" height="6.78" fill="#08081e"/>
<rect x="636.62" y="231.57" width="6.64" height="6.78" fill="#07071d"/>
<rect x="643.21" y="231.57" width="6.64" height="6.78" fill="#08081e"/>
<rect x="649.80" y="231.57" width="6.64" height="6.78" fill="#08081e"/>
<rect x="656.39" y="231.57" width="6.64" height="6.78" fill="#06071c"/>
<rect x="662.98" y="231.57" width="6.64" height="6.78" fill="#06071c"/>
<rect x="669.57" y="231.57" width="6.64" height="6.78" fill="#06071c"/>
<rect x="676.16" y="231.57" width="6.64" height="6.78" fill="#07071d"/>
<rect x="682.75" y="231.57" width="6.64" height="6.78" fill="#07071d"/>
<rect x="689.34" y="231.57" width="6.64" height="6.78" fill="#08081e"/>
<rect x="695.93" y="231.57" width="6.64" height="6.78" fill="#08081e"/>
<rect x="702.52" y="231.57" width="6.64" height="6.78" fill="#06071c"/>
<rect x="709.11" y="231.57" width="6.64" height="6.78" fill="#08081e"/>
<rect x="715.70" y="231.57" width="6.64" height="6.78" fill="#180f29"/>
<rect x="722.29" y="231.57" width="6.64" height="6.78" fill="#08081e"/>
<rect x="728.88" y="231.57" width="6.64" height="6.78" fill="#160e27"/>
<rect x="735.47" y="231.57" width="6.64" height="6.78" fill="#180f29"/>
<rect x="742.06" y="231.57" width="6.64" height="6.78" fill="#07071d"/>
<rect x="748.65" y="231.57" width="6.64" height="6.78" fill="#140e26"/>
<rect x="755.24" y="231.57" width="6.64" height="6.78" fill="#110c24"/>
<rect x="761.83" y="231.57" width="6.64" height="6.78" fill="#cb1b4f"/>
<rect x="768.42" y="231.57" width="6.64" height="6.78" fill="#110c24"/>
<rect x="775.01" y="231.57" width="6.64" height="6.78" fill="#08081e"/>
<rect x="518.00" y="238.31" width="6.64" height="6.78" fill="#06071c"/>
<rect x="524.59" y="238.31" width="6.64" height="6.78" fill="#08081e"/>
<rect x="531.18" y="238.31" width="6.64" height="6.78" fill="#08081e"/>
<rect x="537.77" y="238.31" width="6.64" height="6.78" fill="#07071d"/>
<rect x="544.36" y="238.31" width="6.64" height="6.78" fill="#06071c"/>
<rect x="550.95" y="238.31" width="6.64" height="6.78" fill="#08081e"/>
<rect x="557.54" y="238.31" width="6.64" height="6.78" fill="#08081e"/>
<rect x="564.13" y="238.31" width="6.64" height="6.78" fill="#06071c"/>
<rect x="570.72" y="238.31" width="6.64" height="6.78" fill="#07071d"/>
<rect x="577.31" y="238.31" width="6.64" height="6.78" fill="#08081e"/>
<rect x="583.90" y="238.31" width="6.64" height="6.78" fill="#08081e"/>
<rect x="590.49" y="238.31" width="6.64" height="6.78" fill="#07071d"/>
<rect x="597.08" y="238.31" width="6.64" height="6.78" fill="#07071d"/>
<rect x="603.67" y="238.31" width="6.64" height="6.78" fill="#07071d"/>
<rect x="610.26" y="238.31" width="6.64" height="6.78" fill="#06071c"/>
<rect x="616.85" y="238.31" width="6.64" height="6.78" fill="#06071c"/>
<rect x="623.44" y="238.31" width="6.64" height="6.78" fill="#06071c"/>
<rect x="630.03" y="238.31" width="6.64" height="6.78" fill="#08081e"/>
<rect x="636.62" y="238.31" width="6.64" height="6.78" fill="#07071d"/>
<rect x="643.21" y="238.31" width="6.64" height="6.78" fill="#07071d"/>
<rect x="649.80" y="238.31" width="6.64" height="6.78" fill="#07071d"/>
<rect x="656.39" y="238.31" width="6.64" height="6.78" fill="#07071d"/>
<rect x="662.98" y="238.31" width="6.64" height="6.78" fill="#06071c"/>
<rect x="669.57" y="238.31" width="6.64" height="6.78" fill="#06071c"/>
<rect x="676.16" y="238.31" width="6.64" height="6.78" fill="#0a091f"/>
<rect x="682.75" y="238.31" width="6.64" height="6.78" fill="#07071d"/>
<rect x="689.34" y="238.31" width="6.64" height="6.78" fill="#06071c"/>
<rect x="695.93" y="238.31" width="6.64" height="6.78" fill="#08081e"/>
<rect x="702.52" y="238.31" width="6.64" height="6.78" fill="#08081e"/>
<rect x="709.11" y="238.31" width="6.64" height="6.78" fill="#06071c"/>
<rect x="715.70" y="238.31" width="6.64" height="6.78" fill="#0a091f"/>
<rect x="722.29" y="238.31" width="6.64" height="6.78" fill="#07071d"/>
<rect x="728.88" y="238.31" width="6.64" height="6.78" fill="#180f29"/>
<rect x="735.47" y="238.31" width="6.64" height="6.78" fill="#0e0b22"/>
<rect x="742.06" y="238.31" width="6.64" height="6.78" fill="#08081e"/>
<rect x="748.65" y="238.31" width="6.64" height="6.78" fill="#0d0a21"/>
<rect x="755.24" y="238.31" width="6.64" height="6.78" fill="#8b1d5b"/>
<rect x="761.83" y="238.31" width="6.64" height="6.78" fill="#1b112b"/>
<rect x="768.42" y="238.31" width="6.64" height="6.78" fill="#06071c"/>
<rect x="775.01" y="238.31" width="6.64" height="6.78" fill="#07071d"/>
<rect x="518.00" y="245.04" width="6.64" height="6.78" fill="#06071c"/>
<rect x="524.59" y="245.04" width="6.64" height="6.78" fill="#06071c"/>
<rect x="531.18" y="245.04" width="6.64" height="6.78" fill="#07071d"/>
<rect x="537.77" y="245.04" width="6.64" height="6.78" fill="#08081e"/>
<rect x="544.36" y="245.04" width="6.64" height="6.78" fill="#07071d"/>
<rect x="550.95" y="245.04" width="6.64" height="6.78" fill="#08081e"/>
<rect x="557.54" y="245.04" width="6.64" height="6.78" fill="#08081e"/>
<rect x="564.13" y="245.04" width="6.64" height="6.78" fill="#06071c"/>
<rect x="570.72" y="245.04" width="6.64" height="6.78" fill="#07071d"/>
<rect x="577.31" y="245.04" width="6.64" height="6.78" fill="#07071d"/>
<rect x="583.90" y="245.04" width="6.64" height="6.78" fill="#06071c"/>
<rect x="590.49" y="245.04" width="6.64" height="6.78" fill="#0a091f"/>
<rect x="597.08" y="245.04" width="6.64" height="6.78" fill="#06071c"/>
<rect x="603.67" y="245.04" width="6.64" height="6.78" fill="#07071d"/>
<rect x="610.26" y="245.04" width="6.64" height="6.78" fill="#08081e"/>
<rect x="616.85" y="245.04" width="6.64" height="6.78" fill="#0a091f"/>
<rect x="623.44" y="245.04" width="6.64" height="6.78" fill="#08081e"/>
<rect x="630.03" y="245.04" width="6.64" height="6.78" fill="#07071d"/>
<rect x="636.62" y="245.04" width="6.64" height="6.78" fill="#07071d"/>
<rect x="643.21" y="245.04" width="6.64" height="6.78" fill="#06071c"/>
<rect x="649.80" y="245.04" width="6.64" height="6.78" fill="#0a091f"/>
<rect x="656.39" y="245.04" width="6.64" height="6.78" fill="#0a091f"/>
<rect x="662.98" y="245.04" width="6.64" height="6.78" fill="#06071c"/>
<rect x="669.57" y="245.04" width="6.64" height="6.78" fill="#06071c"/>
<rect x="676.16" y="245.04" width="6.64" height="6.78" fill="#06071c"/>
<rect x="682.75" y="245.04" width="6.64" height="6.78" fill="#07071d"/>
<rect x="689.34" y="245.04" width="6.64" height="6.78" fill="#08081e"/>
<rect x="695.93" y="245.04" width="6.64" height="6.78" fill="#08081e"/>
<rect x="702.52" y="245.04" width="6.64" height="6.78" fill="#08081e"/>
<rect x="709.11" y="245.04" width="6.64" height="6.78" fill="#06071c"/>
<rect x="715.70" y="245.04" width="6.64" height="6.78" fill="#130d25"/>
<rect x="722.29" y="245.04" width="6.64" height="6.78" fill="#1b112b"/>
<rect x="728.88" y="245.04" width="6.64" height="6.78" fill="#06071c"/>
<rect x="735.47" y="245.04" width="6.64" height="6.78" fill="#1a102a"/>
<rect x="742.06" y="245.04" width="6.64" height="6.78" fill="#0a091f"/>
<rect x="748.65" y="245.04" width="6.64" height="6.78" fill="#130d25"/>
<rect x="755.24" y="245.04" width="6.64" height="6.78" fill="#541e4e"/>
<rect x="761.83" y="245.04" width="6.64" height="6.78" fill="#07071d"/>
<rect x="768.42" y="245.04" width="6.64" height="6.78" fill="#07071d"/>
<rect x="775.01" y="245.04" width="6.64" height="6.78" fill="#07071d"/>
<rect x="518.00" y="251.77" width="6.64" height="6.78" fill="#08081e"/>
<rect x="524.59" y="251.77" width="6.64" height="6.78" fill="#06071c"/>
<rect x="531.18" y="251.77" width="6.64" height="6.78" fill="#08081e"/>
<rect x="537.77" y="251.77" width="6.64" height="6.78" fill="#06071c"/>
<rect x="544.36" y="251.77" width="6.64" height="6.78" fill="#06071c"/>
<rect x="550.95" y="251.77" width="6.64" height="6.78" fill="#08081e"/>
<rect x="557.54" y="251.77" width="6.64" height="6.78" fill="#06071c"/>
<rect x="564.13" y="251.77" width="6.64" height="6.78" fill="#08081e"/>
<rect x="570.72" y="251.77" width="6.64" height="6.78" fill="#08081e"/>
<rect x="577.31" y="251.77" width="6.64" height="6.78" fill="#08081e"/>
<rect x="583.90" y="251.77" width="6.64" height="6.78" fill="#06071c"/>
<rect x="590.49" y="251.77" width="6.64" height="6.78" fill="#07071d"/>
<rect x="597.08" y="251.77" width="6.64" height="6.78" fill="#06071c"/>
<rect x="603.67" y="251.77" width="6.64" height="6.78" fill="#08081e"/>
<rect x="610.26" y="251.77" width="6.64" height="6.78" fill="#08081e"/>
<rect x="616.85" y="251.77" width="6.64" height="6.78" fill="#08081e"/>
<rect x="623.44" y="251.77" width="6.64" height="6.78" fill="#07071d"/>
<rect x="630.03" y="251.77" width="6.64" height="6.78" fill="#07071d"/>
<rect x="636.62" y="251.77" width="6.64" height="6.78" fill="#08081e"/>
<rect x="643.21" y="251.77" width="6.64" height="6.78" fill="#07071d"/>
<rect x="649.80" y="251.77" width="6.64" height="6.78" fill="#08081e"/>
<rect x="656.39" y="251.77" width="6.64" height="6.78" fill="#06071c"/>
<rect x="662.98" y="251.77" width="6.64" height="6.78" fill="#06071c"/>
<rect x="669.57" y="251.77" width="6.64" height="6.78" fill="#06071c"/>
<rect x="676.16" y="251.77" width="6.64" height="6.78" fill="#08081e"/>
<rect x="682.75" y="251.77" width="6.64" height="6.78" fill="#07071d"/>
<rect x="689.34" y="251.77" width="6.64" height="6.78" fill="#06071c"/>
<rect x="695.93" y="251.77" width="6.64" height="6.78" fill="#08081e"/>
<rect x="702.52" y="251.77" width="6.64" height="6.78" fill="#06071c"/>
<rect x="709.11" y="251.77" width="6.64" height="6.78" fill="#07071d"/>
<rect x="715.70" y="251.77" width="6.64" height="6.78" fill="#07071d"/>
<rect x="722.29" y="251.77" width="6.64" height="6.78" fill="#0b0920"/>
<rect x="728.88" y="251.77" width="6.64" height="6.78" fill="#0a091f"/>
<rect x="735.47" y="251.77" width="6.64" height="6.78" fill="#170f28"/>
<rect x="742.06" y="251.77" width="6.64" height="6.78" fill="#180f29"/>
<rect x="748.65" y="251.77" width="6.64" height="6.78" fill="#160e27"/>
<rect x="755.24" y="251.77" width="6.64" height="6.78" fill="#08081e"/>
<rect x="761.83" y="251.77" width="6.64" height="6.78" fill="#08081e"/>
<rect x="768.42" y="251.77" width="6.64" height="6.78" fill="#07071d"/>
<rect x="775.01" y="251.77" width="6.64" height="6.78" fill="#1b112b"/>
<rect x="518.00" y="258.50" width="6.64" height="6.78" fill="#0a091f"/>
<rect x="524.59" y="258.50" width="6.64" height="6.78" fill="#08081e"/>
<rect x="531.18" y="258.50" width="6.64" height="6.78" fill="#06071c"/>
<rect x="537.77" y="258.50" width="6.64" height="6.78" fill="#06071c"/>
<rect x="544.36" y="258.50" width="6.64" height="6.78" fill="#08081e"/>
<rect x="550.95" y="258.50" width="6.64" height="6.78" fill="#06071c"/>
<rect x="557.54" y="258.50" width="6.64" height="6.78" fill="#08081e"/>
<rect x="564.13" y="258.50" width="6.64" height="6.78" fill="#06071c"/>
<rect x="570.72" y="258.50" width="6.64" height="6.78" fill="#0a091f"/>
<rect x="577.31" y="258.50" width="6.64" height="6.78" fill="#06071c"/>
<rect x="583.90" y="258.50" width="6.64" height="6.78" fill="#08081e"/>
<rect x="590.49" y="258.50" width="6.64" height="6.78" fill="#07071d"/>
<rect x="597.08" y="258.50" width="6.64" height="6.78" fill="#06071c"/>
<rect x="603.67" y="258.50" width="6.64" height="6.78" fill="#06071c"/>
<rect x="610.26" y="258.50" width="6.64" height="6.78" fill="#08081e"/>
<rect x="616.85" y="258.50" width="6.64" height="6.78" fill="#07071d"/>
<rect x="623.44" y="258.50" width="6.64" height="6.78" fill="#06071c"/>
<rect x="630.03" y="258.50" width="6.64" height="6.78" fill="#07071d"/>
<rect x="636.62" y="258.50" width="6.64" height="6.78" fill="#08081e"/>
<rect x="643.21" y="258.50" width="6.64" height="6.78" fill="#06071c"/>
<rect x="649.80" y="258.50" width="6.64" height="6.78" fill="#07071d"/>
<rect x="656.39" y="258.50" width="6.64" height="6.78" fill="#06071c"/>
<rect x="662.98" y="258.50" width="6.64" height="6.78" fill="#06071c"/>
<rect x="669.57" y="258.50" width="6.64" height="6.78" fill="#08081e"/>
<rect x="676.16" y="258.50" width="6.64" height="6.78" fill="#08081e"/>
<rect x="682.75" y="258.50" width="6.64" height="6.78" fill="#06071c"/>
<rect x="689.34" y="258.50" width="6.64" height="6.78" fill="#06071c"/>
<rect x="695.93" y="258.50" width="6.64" height="6.78" fill="#06071c"/>
<rect x="702.52" y="258.50" width="6.64" height="6.78" fill="#07071d"/>
<rect x="709.11" y="258.50" width="6.64" height="6.78" fill="#07071d"/>
<rect x="715.70" y="258.50" width="6.64" height="6.78" fill="#07071d"/>
<rect x="722.29" y="258.50" width="6.64" height="6.78" fill="#130d25"/>
<rect x="728.88" y="258.50" width="6.64" height="6.78" fill="#751f58"/>
<rect x="735.47" y="258.50" width="6.64" height="6.78" fill="#06071c"/>
<rect x="742.06" y="258.50" width="6.64" height="6.78" fill="#0b0920"/>
<rect x="748.65" y="258.50" width="6.64" height="6.78" fill="#08081e"/>
<rect x="755.24" y="258.50" width="6.64" height="6.78" fill="#0b0920"/>
<rect x="761.83" y="258.50" width="6.64" height="6.78" fill="#180f29"/>
<rect x="768.42" y="258.50" width="6.64" height="6.78" fill="#07071d"/>
<rect x="775.01" y="258.50" width="6.64" height="6.78" fill="#0e0b22"/>
<rect x="518.00" y="265.24" width="6.64" height="6.78" fill="#08081e"/>
<rect x="524.59" y="265.24" width="6.64" height="6.78" fill="#06071c"/>
<rect x="531.18" y="265.24" width="6.64" height="6.78" fill="#06071c"/>
<rect x="537.77" y="265.24" width="6.64" height="6.78" fill="#08081e"/>
<rect x="544.36" y="265.24" width="6.64" height="6.78" fill="#07071d"/>
<rect x="550.95" y="265.24" width="6.64" height="6.78" fill="#06071c"/>
<rect x="557.54" y="265.24" width="6.64" height="6.78" fill="#07071d"/>
<rect x="564.13" y="265.24" width="6.64" height="6.78" fill="#07071d"/>
<rect x="570.72" y="265.24" width="6.64" height="6.78" fill="#06071c"/>
<rect x="577.31" y="265.24" width="6.64" height="6.78" fill="#07071d"/>
<rect x="583.90" y="265.24" width="6.64" height="6.78" fill="#07071d"/>
<rect x="590.49" y="265.24" width="6.64" height="6.78" fill="#07071d"/>
<rect x="597.08" y="265.24" width="6.64" height="6.78" fill="#06071c"/>
<rect x="603.67" y="265.24" width="6.64" height="6.78" fill="#08081e"/>
<rect x="610.26" y="265.24" width="6.64" height="6.78" fill="#08081e"/>
<rect x="616.85" y="265.24" width="6.64" height="6.78" fill="#08081e"/>
<rect x="623.44" y="265.24" width="6.64" height="6.78" fill="#07071d"/>
<rect x="630.03" y="265.24" width="6.64" height="6.78" fill="#08081e"/>
<rect x="636.62" y="265.24" width="6.64" height="6.78" fill="#07071d"/>
<rect x="643.21" y="265.24" width="6.64" height="6.78" fill="#08081e"/>
<rect x="649.80" y="265.24" width="6.64" height="6.78" fill="#06071c"/>
<rect x="656.39" y="265.24" width="6.64" height="6.78" fill="#08081e"/>
<rect x="662.98" y="265.24" width="6.64" height="6.78" fill="#0a091f"/>
<rect x="669.57" y="265.24" width="6.64" height="6.78" fill="#07071d"/>
<rect x="676.16" y="265.24" width="6.64" height="6.78" fill="#07071d"/>
<rect x="682.75" y="265.24" width="6.64" height="6.78" fill="#07071d"/>
<rect x="689.34" y="265.24" width="6.64" height="6.78" fill="#07071d"/>
<rect x="695.93" y="265.24" width="6.64" height="6.78" fill="#06071c"/>
<rect x="702.52" y="265.24" width="6.64" height="6.78" fill="#0a091f"/>
<rect x="709.11" y="265.24" width="6.64" height="6.78" fill="#06071c"/>
<rect x="715.70" y="265.24" width="6.64" height="6.78" fill="#06071c"/>
<rect x="722.29" y="265.24" width="6.64" height="6.78" fill="#140e26"/>
<rect x="728.88" y="265.24" width="6.64" height="6.78" fill="#06071c"/>
<rect x="735.47" y="265.24" width="6.64" height="6.78" fill="#08081e"/>
<rect x="742.06" y="265.24" width="6.64" height="6.78" fill="#0d0a21"/>
<rect x="748.65" y="265.24" width="6.64" height="6.78" fill="#0d0a21"/>
<rect x="755.24" y="265.24" width="6.64" height="6.78" fill="#08081e"/>
<rect x="761.83" y="265.24" width="6.64" height="6.78" fill="#130d25"/>
<rect x="768.42" y="265.24" width="6.64" height="6.78" fill="#06071c"/>
<rect x="775.01" y="265.24" width="6.64" height="6.78" fill="#0d0a21"/>
<rect x="518.00" y="271.97" width="6.64" height="6.78" fill="#06071c"/>
<rect x="524.59" y="271.97" width="6.64" height="6.78" fill="#06071c"/>
<rect x="531.18" y="271.97" width="6.64" height="6.78" fill="#07071d"/>
<rect x="537.77" y="271.97" width="6.64" height="6.78" fill="#06071c"/>
<rect x="544.36" y="271.97" width="6.64" height="6.78" fill="#07071d"/>
<rect x="550.95" y="271.97" width="6.64" height="6.78" fill="#08081e"/>
<rect x="557.54" y="271.97" width="6.64" height="6.78" fill="#06071c"/>
<rect x="564.13" y="271.97" width="6.64" height="6.78" fill="#07071d"/>
<rect x="570.72" y="271.97" width="6.64" height="6.78" fill="#08081e"/>
<rect x="577.31" y="271.97" width="6.64" height="6.78" fill="#06071c"/>
<rect x="583.90" y="271.97" width="6.64" height="6.78" fill="#08081e"/>
<rect x="590.49" y="271.97" width="6.64" height="6.78" fill="#08081e"/>
<rect x="597.08" y="271.97" width="6.64" height="6.78" fill="#07071d"/>
<rect x="603.67" y="271.97" width="6.64" height="6.78" fill="#07071d"/>
<rect x="610.26" y="271.97" width="6.64" height="6.78" fill="#08081e"/>
<rect x="616.85" y="271.97" width="6.64" height="6.78" fill="#07071d"/>
<rect x="623.44" y="271.97" width="6.64" height="6.78" fill="#07071d"/>
<rect x="630.03" y="271.97" width="6.64" height="6.78" fill="#08081e"/>
<rect x="636.62" y="271.97" width="6.64" height="6.78" fill="#08081e"/>
<rect x="643.21" y="271.97" width="6.64" height="6.78" fill="#07071d"/>
<rect x="649.80" y="271.97" width="6.64" height="6.78" fill="#06071c"/>
<rect x="656.39" y="271.97" width="6.64" height="6.78" fill="#07071d"/>
<rect x="662.98" y="271.97" width="6.64" height="6.78" fill="#07071d"/>
<rect x="669.57" y="271.97" width="6.64" height="6.78" fill="#0a091f"/>
<rect x="676.16" y="271.97" width="6.64" height="6.78" fill="#08081e"/>
<rect x="682.75" y="271.97" width="6.64" height="6.78" fill="#08081e"/>
<rect x="689.34" y="271.97" width="6.64" height="6.78" fill="#08081e"/>
<rect x="695.93" y="271.97" width="6.64" height="6.78" fill="#08081e"/>
<rect x="702.52" y="271.97" width="6.64" height="6.78" fill="#06071c"/>
<rect x="709.11" y="271.97" width="6.64" height="6.78" fill="#07071d"/>
<rect x="715.70" y="271.97" width="6.64" height="6.78" fill="#1b112b"/>
<rect x="722.29" y="271.97" width="6.64" height="6.78" fill="#0a091f"/>
<rect x="728.88" y="271.97" width="6.64" height="6.78" fill="#0a091f"/>
<rect x="735.47" y="271.97" width="6.64" height="6.78" fill="#f9e3d2"/>
<rect x="742.06" y="271.97" width="6.64" height="6.78" fill="#0b0920"/>
<rect x="748.65" y="271.97" width="6.64" height="6.78" fill="#06071c"/>
<rect x="755.24" y="271.97" width="6.64" height="6.78" fill="#160e27"/>
<rect x="761.83" y="271.97" width="6.64" height="6.78" fill="#110c24"/>
<rect x="768.42" y="271.97" width="6.64" height="6.78" fill="#180f29"/>
<rect x="775.01" y="271.97" width="6.64" height="6.78" fill="#08081e"/>
<path d="M524.59 9.4V278.7M518.0 16.13H781.6M531.18 9.4V278.7M518.0 22.87H781.6M537.77 9.4V278.7M518.0 29.60H781.6M518.0 43.06H781.6M564.13 9.4V278.7M570.72 9.4V278.7M518.0 63.26H781.6M577.31 9.4V278.7M518.0 69.99H781.6M583.90 9.4V278.7M518.0 76.73H781.6M518.0 90.19H781.6M610.26 9.4V278.7M616.85 9.4V278.7M518.0 110.39H781.6M623.44 9.4V278.7M518.0 117.12H781.6M518.0 123.85H781.6M518.0 137.32H781.6M649.80 9.4V278.7M656.39 9.4V278.7M662.98 9.4V278.7M518.0 157.52H781.6M669.57 9.4V278.7M518.0 164.25H781.6M518.0 170.98H781.6M518.0 184.44H781.6M695.93 9.4V278.7M702.52 9.4V278.7M709.11 9.4V278.7M518.0 204.64H781.6M518.0 211.38H781.6M518.0 218.11H781.6M735.47 9.4V278.7M518.0 231.57H781.6M742.06 9.4V278.7M748.65 9.4V278.7M755.24 9.4V278.7M518.0 251.77H781.6M518.0 258.50H781.6M518.0 265.24H781.6" stroke="#b0b0e0" stroke-opacity="0.20" stroke-width="0.6" fill="none"/>
<path d="M518.0 49.79H781.6M518.0 56.53H781.6M518.0 96.92H781.6M518.0 103.66H781.6M518.0 144.05H781.6M518.0 150.78H781.6M518.0 191.18H781.6M518.0 197.91H781.6M518.0 238.31H781.6M518.0 245.04H781.6" stroke="#b0b0e0" stroke-opacity="0.10" stroke-width="0.6" fill="none"/>
<rect x="517.4" y="163.0" width="140.0" height="9.0" fill="none" stroke="#c9772e" stroke-width="1.2"/>
<rect x="649.2" y="163.0" width="8.2" height="115.6" fill="none" stroke="#c9772e" stroke-width="1.2"/>
<text transform="translate(512.9,14.77) scale(0.7,1)" class="hy" text-anchor="end">0</text>
<text transform="translate(512.9,21.50) scale(0.7,1)" class="hy" text-anchor="end">1</text>
<text transform="translate(512.9,28.23) scale(0.7,1)" class="hy" text-anchor="end">2</text>
<text transform="translate(512.9,34.96) scale(0.7,1)" class="hy" text-anchor="end">3</text>
<text transform="translate(512.9,41.70) scale(0.7,1)" class="hy" text-anchor="end">4</text>
<text transform="translate(512.9,48.43) scale(0.7,1)" class="hy" text-anchor="end">5</text>
<text transform="translate(512.9,55.16) scale(0.7,1)" class="hy" text-anchor="end">6</text>
<text transform="translate(512.9,61.89) scale(0.7,1)" class="hy" text-anchor="end">7</text>
<text transform="translate(512.9,68.63) scale(0.7,1)" class="hy" text-anchor="end">8</text>
<text transform="translate(512.9,75.36) scale(0.7,1)" class="hy" text-anchor="end">9</text>
<text transform="translate(512.9,82.09) scale(0.7,1)" class="hy" text-anchor="end">10</text>
<text transform="translate(512.9,88.82) scale(0.7,1)" class="hy" text-anchor="end">11</text>
<text transform="translate(512.9,95.56) scale(0.7,1)" class="hy" text-anchor="end">12</text>
<text transform="translate(512.9,102.29) scale(0.7,1)" class="hy" text-anchor="end">13</text>
<text transform="translate(512.9,109.02) scale(0.7,1)" class="hy" text-anchor="end">14</text>
<text transform="translate(512.9,115.75) scale(0.7,1)" class="hy" text-anchor="end">15</text>
<text transform="translate(512.9,122.49) scale(0.7,1)" class="hy" text-anchor="end">16</text>
<text transform="translate(512.9,129.22) scale(0.7,1)" class="hy" text-anchor="end">17</text>
<text transform="translate(512.9,135.95) scale(0.7,1)" class="hy" text-anchor="end">18</text>
<text transform="translate(512.9,142.68) scale(0.7,1)" class="hy" text-anchor="end">19</text>
<text transform="translate(512.9,149.42) scale(0.7,1)" class="hy" text-anchor="end">20</text>
<text transform="translate(512.9,156.15) scale(0.7,1)" class="hy" text-anchor="end">21</text>
<text transform="translate(512.9,162.88) scale(0.7,1)" class="hy" text-anchor="end">22</text>
<text transform="translate(512.9,169.61) scale(0.7,1)" class="hy" text-anchor="end">23</text>
<text transform="translate(512.9,176.35) scale(0.7,1)" class="hy" text-anchor="end">24</text>
<text transform="translate(512.9,183.08) scale(0.7,1)" class="hy" text-anchor="end">25</text>
<text transform="translate(512.9,189.81) scale(0.7,1)" class="hy" text-anchor="end">26</text>
<text transform="translate(512.9,196.54) scale(0.7,1)" class="hy" text-anchor="end">27</text>
<text transform="translate(512.9,203.28) scale(0.7,1)" class="hy" text-anchor="end">28</text>
<text transform="translate(512.9,210.01) scale(0.7,1)" class="hy" text-anchor="end">29</text>
<text transform="translate(512.9,216.74) scale(0.7,1)" class="hy" text-anchor="end">30</text>
<text transform="translate(512.9,223.47) scale(0.7,1)" class="hy" text-anchor="end">31</text>
<text transform="translate(512.9,230.21) scale(0.7,1)" class="hy" text-anchor="end">32</text>
<text transform="translate(512.9,236.94) scale(0.7,1)" class="hy" text-anchor="end">33</text>
<text transform="translate(512.9,243.67) scale(0.7,1)" class="hy" text-anchor="end">34</text>
<text transform="translate(512.9,250.40) scale(0.7,1)" class="hy" text-anchor="end">35</text>
<text transform="translate(512.9,257.14) scale(0.7,1)" class="hy" text-anchor="end">36</text>
<text transform="translate(512.9,263.87) scale(0.7,1)" class="hy" text-anchor="end">37</text>
<text transform="translate(512.9,270.60) scale(0.7,1)" class="hy" text-anchor="end">38</text>
<text transform="translate(512.9,277.33) scale(0.7,1)" class="hy" text-anchor="end">39</text>
<text transform="translate(523.44,285.2) rotate(-90) scale(1,0.86)" class="hx" text-anchor="end">0</text>
<text transform="translate(530.03,285.2) rotate(-90) scale(1,0.86)" class="hx" text-anchor="end">1</text>
<text transform="translate(536.62,285.2) rotate(-90) scale(1,0.86)" class="hx" text-anchor="end">2</text>
<text transform="translate(543.22,285.2) rotate(-90) scale(1,0.86)" class="hx" text-anchor="end">3</text>
<text transform="translate(549.80,285.2) rotate(-90) scale(1,0.86)" class="hx" text-anchor="end">4</text>
<text transform="translate(556.39,285.2) rotate(-90) scale(1,0.86)" class="hx" text-anchor="end">5</text>
<text transform="translate(562.99,285.2) rotate(-90) scale(1,0.86)" class="hx" text-anchor="end">6</text>
<text transform="translate(569.57,285.2) rotate(-90) scale(1,0.86)" class="hx" text-anchor="end">7</text>
<text transform="translate(576.16,285.2) rotate(-90) scale(1,0.86)" class="hx" text-anchor="end">8</text>
<text transform="translate(582.75,285.2) rotate(-90) scale(1,0.86)" class="hx" text-anchor="end">9</text>
<text transform="translate(589.35,285.2) rotate(-90) scale(1,0.86)" class="hx" text-anchor="end">10</text>
<text transform="translate(595.93,285.2) rotate(-90) scale(1,0.86)" class="hx" text-anchor="end">11</text>
<text transform="translate(602.52,285.2) rotate(-90) scale(1,0.86)" class="hx" text-anchor="end">12</text>
<text transform="translate(609.12,285.2) rotate(-90) scale(1,0.86)" class="hx" text-anchor="end">13</text>
<text transform="translate(615.71,285.2) rotate(-90) scale(1,0.86)" class="hx" text-anchor="end">14</text>
<text transform="translate(622.29,285.2) rotate(-90) scale(1,0.86)" class="hx" text-anchor="end">15</text>
<text transform="translate(628.88,285.2) rotate(-90) scale(1,0.86)" class="hx" text-anchor="end">16</text>
<text transform="translate(635.48,285.2) rotate(-90) scale(1,0.86)" class="hx" text-anchor="end">17</text>
<text transform="translate(642.06,285.2) rotate(-90) scale(1,0.86)" class="hx" text-anchor="end">18</text>
<text transform="translate(648.65,285.2) rotate(-90) scale(1,0.86)" class="hx" text-anchor="end">19</text>
<text transform="translate(655.25,285.2) rotate(-90) scale(1,0.86)" class="hx" text-anchor="end">20</text>
<text transform="translate(661.83,285.2) rotate(-90) scale(1,0.86)" class="hx" text-anchor="end">21</text>
<text transform="translate(668.42,285.2) rotate(-90) scale(1,0.86)" class="hx" text-anchor="end">22</text>
<text transform="translate(675.01,285.2) rotate(-90) scale(1,0.86)" class="hx" text-anchor="end">23</text>
<text transform="translate(681.61,285.2) rotate(-90) scale(1,0.86)" class="hx" text-anchor="end">24</text>
<text transform="translate(688.20,285.2) rotate(-90) scale(1,0.86)" class="hx" text-anchor="end">25</text>
<text transform="translate(694.78,285.2) rotate(-90) scale(1,0.86)" class="hx" text-anchor="end">26</text>
<text transform="translate(701.38,285.2) rotate(-90) scale(1,0.86)" class="hx" text-anchor="end">27</text>
<text transform="translate(707.97,285.2) rotate(-90) scale(1,0.86)" class="hx" text-anchor="end">28</text>
<text transform="translate(714.55,285.2) rotate(-90) scale(1,0.86)" class="hx" text-anchor="end">29</text>
<text transform="translate(721.14,285.2) rotate(-90) scale(1,0.86)" class="hx" text-anchor="end">30</text>
<text transform="translate(727.74,285.2) rotate(-90) scale(1,0.86)" class="hx" text-anchor="end">31</text>
<text transform="translate(734.32,285.2) rotate(-90) scale(1,0.86)" class="hx" text-anchor="end">32</text>
<text transform="translate(740.91,285.2) rotate(-90) scale(1,0.86)" class="hx" text-anchor="end">33</text>
<text transform="translate(747.50,285.2) rotate(-90) scale(1,0.86)" class="hx" text-anchor="end">34</text>
<text transform="translate(754.10,285.2) rotate(-90) scale(1,0.86)" class="hx" text-anchor="end">35</text>
<text transform="translate(760.69,285.2) rotate(-90) scale(1,0.86)" class="hx" text-anchor="end">36</text>
<text transform="translate(767.27,285.2) rotate(-90) scale(1,0.86)" class="hx" text-anchor="end">37</text>
<text transform="translate(773.87,285.2) rotate(-90) scale(1,0.86)" class="hx" text-anchor="end">38</text>
<text transform="translate(780.46,285.2) rotate(-90) scale(1,0.86)" class="hx" text-anchor="end">39</text>
<defs><linearGradient id="cb" x1="0" y1="1" x2="0" y2="0">
<stop offset="0.00" stop-color="#03051a"/>
<stop offset="0.05" stop-color="#130d25"/>
<stop offset="0.10" stop-color="#251433"/>
<stop offset="0.15" stop-color="#381a40"/>
<stop offset="0.20" stop-color="#4b1d4a"/>
<stop offset="0.25" stop-color="#601f52"/>
<stop offset="0.30" stop-color="#751f58"/>
<stop offset="0.35" stop-color="#891e5b"/>
<stop offset="0.40" stop-color="#9f1a5b"/>
<stop offset="0.45" stop-color="#b51657"/>
<stop offset="0.50" stop-color="#c81951"/>
<stop offset="0.55" stop-color="#d92847"/>
<stop offset="0.60" stop-color="#e73d3f"/>
<stop offset="0.65" stop-color="#ee543f"/>
<stop offset="0.70" stop-color="#f26d4b"/>
<stop offset="0.75" stop-color="#f4845d"/>
<stop offset="0.80" stop-color="#f59970"/>
<stop offset="0.85" stop-color="#f6ae87"/>
<stop offset="0.90" stop-color="#f7c2a2"/>
<stop offset="0.95" stop-color="#f8d4bc"/>
<stop offset="1.00" stop-color="#fae8d8"/>
</linearGradient></defs>
<rect x="798.2" y="9.4" width="10.6" height="269.3" fill="url(#cb)"/>
<line x1="808.8" y1="61.2" x2="812.0" y2="61.2" stroke="#333" stroke-width="0.7"/>
<text transform="translate(814.2,64.0) scale(0.77,1)" class="cbt">0.8</text>
<line x1="808.8" y1="115.5" x2="812.0" y2="115.5" stroke="#333" stroke-width="0.7"/>
<text transform="translate(814.2,118.3) scale(0.77,1)" class="cbt">0.6</text>
<line x1="808.8" y1="169.7" x2="812.0" y2="169.7" stroke="#333" stroke-width="0.7"/>
<text transform="translate(814.2,172.5) scale(0.77,1)" class="cbt">0.4</text>
<line x1="808.8" y1="224.0" x2="812.0" y2="224.0" stroke="#333" stroke-width="0.7"/>
<text transform="translate(814.2,226.8) scale(0.77,1)" class="cbt">0.2</text>
</svg>
</body></html>
